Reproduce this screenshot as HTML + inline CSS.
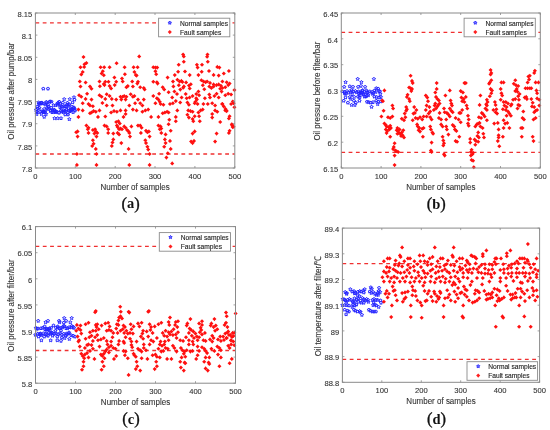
<!DOCTYPE html>
<html><head><meta charset="utf-8"><title>Figure</title>
<style>
html,body{margin:0;padding:0;background:#fff;width:550px;height:430px;overflow:hidden}
svg{display:block;filter:blur(0.3px)}
.tk{font-family:"Liberation Sans",Arial,sans-serif;font-size:7.6px;fill:#333;stroke:#333;stroke-width:0.1px}
.lb{font-family:"Liberation Sans",Arial,sans-serif;font-size:8px;fill:#333;stroke:#333;stroke-width:0.1px}
.lg{font-family:"Liberation Sans",Arial,sans-serif;font-size:6.65px;fill:#222;stroke:#222;stroke-width:0.12px}
.par{font-size:16.5px;font-weight:normal;stroke:#111;stroke-width:0.35px}
.cap{font-family:"Liberation Serif","DejaVu Serif",serif;font-size:14.5px;font-weight:bold;fill:#111}
</style></head><body>
<svg width="550" height="430" viewBox="0 0 550 430">
<defs><path id="rm" d="M0 -2.05L1.02 -1.02L2.05 0L1.02 1.02L0 2.05L-1.02 1.02L-2.05 0L-1.02 -1.02Z"/><polygon id="bm" points="0.00,-1.75 0.57,-0.78 1.66,-0.54 0.92,0.30 1.03,1.42 0.00,0.96 -1.03,1.42 -0.92,0.30 -1.66,-0.54 -0.57,-0.78"/></defs>
<rect width="550" height="430" fill="#fff"/>
<g><line x1="35.4" y1="22.8" x2="234.8" y2="22.8" stroke="#f03030" stroke-width="1.3" stroke-dasharray="3.8 3.5"/>
<line x1="35.4" y1="154.0" x2="234.8" y2="154.0" stroke="#f03030" stroke-width="1.3" stroke-dasharray="3.8 3.5"/>
<g fill="none" stroke="#2424ff" stroke-width="1.0"><use href="#bm" x="43.3" y="88.7"/>
<use href="#bm" x="48.0" y="88.7"/>
<use href="#bm" x="64.2" y="99.2"/>
<use href="#bm" x="69.8" y="99.2"/>
<use href="#bm" x="74.0" y="97.3"/>
<use href="#bm" x="74.5" y="99.7"/>
<use href="#bm" x="72.6" y="102.5"/>
<use href="#bm" x="44.2" y="116.9"/>
<use href="#bm" x="54.5" y="118.3"/>
<use href="#bm" x="57.7" y="118.3"/>
<use href="#bm" x="61.0" y="118.3"/>
<use href="#bm" x="69.3" y="119.2"/>
<use href="#bm" x="36.8" y="114.1"/>
<use href="#bm" x="41.4" y="114.1"/>
<use href="#bm" x="46.1" y="114.1"/>
<use href="#bm" x="65.2" y="114.6"/>
<use href="#bm" x="68.0" y="114.6"/>
<use href="#bm" x="36.1" y="109.8"/>
<use href="#bm" x="36.6" y="112.1"/>
<use href="#bm" x="37.1" y="111.9"/>
<use href="#bm" x="37.2" y="106.6"/>
<use href="#bm" x="38.1" y="108.7"/>
<use href="#bm" x="38.6" y="102.5"/>
<use href="#bm" x="38.9" y="104.1"/>
<use href="#bm" x="39.4" y="107.9"/>
<use href="#bm" x="39.6" y="103.7"/>
<use href="#bm" x="40.2" y="111.8"/>
<use href="#bm" x="40.9" y="103.0"/>
<use href="#bm" x="41.4" y="102.8"/>
<use href="#bm" x="41.8" y="102.7"/>
<use href="#bm" x="42.0" y="111.3"/>
<use href="#bm" x="42.6" y="103.7"/>
<use href="#bm" x="43.4" y="111.3"/>
<use href="#bm" x="43.5" y="112.3"/>
<use href="#bm" x="44.1" y="109.1"/>
<use href="#bm" x="44.5" y="112.1"/>
<use href="#bm" x="45.2" y="112.4"/>
<use href="#bm" x="45.7" y="104.7"/>
<use href="#bm" x="46.0" y="103.1"/>
<use href="#bm" x="46.3" y="102.0"/>
<use href="#bm" x="46.9" y="108.2"/>
<use href="#bm" x="47.2" y="109.1"/>
<use href="#bm" x="47.9" y="104.8"/>
<use href="#bm" x="48.6" y="106.8"/>
<use href="#bm" x="48.8" y="106.8"/>
<use href="#bm" x="49.5" y="101.9"/>
<use href="#bm" x="50.1" y="101.5"/>
<use href="#bm" x="50.4" y="111.0"/>
<use href="#bm" x="50.6" y="110.3"/>
<use href="#bm" x="51.2" y="107.9"/>
<use href="#bm" x="51.5" y="101.7"/>
<use href="#bm" x="52.1" y="112.3"/>
<use href="#bm" x="52.5" y="110.0"/>
<use href="#bm" x="53.4" y="112.1"/>
<use href="#bm" x="53.6" y="105.3"/>
<use href="#bm" x="54.1" y="110.2"/>
<use href="#bm" x="54.4" y="109.9"/>
<use href="#bm" x="55.2" y="111.2"/>
<use href="#bm" x="55.3" y="112.2"/>
<use href="#bm" x="55.8" y="105.2"/>
<use href="#bm" x="56.5" y="111.8"/>
<use href="#bm" x="56.9" y="111.9"/>
<use href="#bm" x="57.5" y="104.8"/>
<use href="#bm" x="57.8" y="103.3"/>
<use href="#bm" x="58.2" y="102.9"/>
<use href="#bm" x="59.0" y="112.8"/>
<use href="#bm" x="59.2" y="101.8"/>
<use href="#bm" x="60.1" y="107.4"/>
<use href="#bm" x="60.3" y="104.0"/>
<use href="#bm" x="60.8" y="110.8"/>
<use href="#bm" x="61.2" y="106.1"/>
<use href="#bm" x="61.5" y="111.8"/>
<use href="#bm" x="62.0" y="106.9"/>
<use href="#bm" x="62.9" y="102.7"/>
<use href="#bm" x="63.3" y="112.2"/>
<use href="#bm" x="63.7" y="110.3"/>
<use href="#bm" x="63.9" y="106.2"/>
<use href="#bm" x="64.4" y="111.0"/>
<use href="#bm" x="65.0" y="106.5"/>
<use href="#bm" x="65.8" y="111.1"/>
<use href="#bm" x="66.2" y="106.5"/>
<use href="#bm" x="66.5" y="109.7"/>
<use href="#bm" x="67.0" y="104.6"/>
<use href="#bm" x="67.4" y="102.9"/>
<use href="#bm" x="67.9" y="112.7"/>
<use href="#bm" x="68.6" y="108.5"/>
<use href="#bm" x="68.9" y="105.1"/>
<use href="#bm" x="69.2" y="104.4"/>
<use href="#bm" x="70.0" y="111.3"/>
<use href="#bm" x="70.2" y="110.3"/>
<use href="#bm" x="70.9" y="109.3"/>
<use href="#bm" x="71.3" y="110.0"/>
<use href="#bm" x="71.7" y="109.4"/>
<use href="#bm" x="72.1" y="106.8"/>
<use href="#bm" x="72.8" y="109.2"/>
<use href="#bm" x="73.1" y="112.2"/>
<use href="#bm" x="73.7" y="107.9"/>
<use href="#bm" x="73.9" y="107.5"/>
<use href="#bm" x="74.5" y="109.0"/>
<use href="#bm" x="75.0" y="110.7"/></g>
<g fill="#ff1010" stroke="none"><use href="#rm" x="234.4" y="90.1"/>
<use href="#rm" x="233.6" y="103.2"/>
<use href="#rm" x="234.4" y="107.2"/>
<use href="#rm" x="232.8" y="101.5"/>
<use href="#rm" x="232.0" y="125.1"/>
<use href="#rm" x="233.6" y="126.8"/>
<use href="#rm" x="222.2" y="104.0"/>
<use href="#rm" x="223.8" y="106.4"/>
<use href="#rm" x="225.5" y="108.9"/>
<use href="#rm" x="226.3" y="110.5"/>
<use href="#rm" x="83.5" y="57.0"/>
<use href="#rm" x="139.2" y="56.4"/>
<use href="#rm" x="116.6" y="63.3"/>
<use href="#rm" x="86.4" y="63.0"/>
<use href="#rm" x="84.5" y="64.3"/>
<use href="#rm" x="80.5" y="67.3"/>
<use href="#rm" x="84.2" y="66.9"/>
<use href="#rm" x="100.6" y="67.3"/>
<use href="#rm" x="104.2" y="67.3"/>
<use href="#rm" x="109.6" y="67.3"/>
<use href="#rm" x="124.6" y="67.3"/>
<use href="#rm" x="133.6" y="67.3"/>
<use href="#rm" x="137.6" y="67.3"/>
<use href="#rm" x="153.3" y="67.3"/>
<use href="#rm" x="102.8" y="71.3"/>
<use href="#rm" x="101.6" y="73.5"/>
<use href="#rm" x="103.8" y="75.3"/>
<use href="#rm" x="82.7" y="72.0"/>
<use href="#rm" x="81.3" y="74.5"/>
<use href="#rm" x="124.9" y="74.2"/>
<use href="#rm" x="134.4" y="72.0"/>
<use href="#rm" x="135.8" y="74.9"/>
<use href="#rm" x="136.6" y="75.6"/>
<use href="#rm" x="114.4" y="77.5"/>
<use href="#rm" x="122.0" y="78.5"/>
<use href="#rm" x="122.7" y="81.5"/>
<use href="#rm" x="79.8" y="81.5"/>
<use href="#rm" x="85.6" y="82.5"/>
<use href="#rm" x="99.5" y="81.5"/>
<use href="#rm" x="105.3" y="81.8"/>
<use href="#rm" x="108.5" y="81.8"/>
<use href="#rm" x="116.2" y="81.8"/>
<use href="#rm" x="132.2" y="81.5"/>
<use href="#rm" x="138.0" y="81.8"/>
<use href="#rm" x="153.3" y="81.8"/>
<use href="#rm" x="80.5" y="86.5"/>
<use href="#rm" x="90.0" y="86.5"/>
<use href="#rm" x="91.5" y="88.7"/>
<use href="#rm" x="99.9" y="86.2"/>
<use href="#rm" x="103.8" y="84.1"/>
<use href="#rm" x="104.5" y="85.1"/>
<use href="#rm" x="109.6" y="86.1"/>
<use href="#rm" x="111.1" y="88.4"/>
<use href="#rm" x="114.7" y="85.1"/>
<use href="#rm" x="126.4" y="87.3"/>
<use href="#rm" x="127.8" y="86.1"/>
<use href="#rm" x="132.9" y="86.5"/>
<use href="#rm" x="137.3" y="83.6"/>
<use href="#rm" x="140.2" y="87.3"/>
<use href="#rm" x="143.8" y="88.0"/>
<use href="#rm" x="144.6" y="89.5"/>
<use href="#rm" x="79.1" y="95.3"/>
<use href="#rm" x="81.3" y="96.7"/>
<use href="#rm" x="87.1" y="93.8"/>
<use href="#rm" x="85.6" y="98.9"/>
<use href="#rm" x="91.5" y="99.6"/>
<use href="#rm" x="99.5" y="95.3"/>
<use href="#rm" x="101.6" y="96.7"/>
<use href="#rm" x="106.7" y="94.2"/>
<use href="#rm" x="105.3" y="98.9"/>
<use href="#rm" x="109.6" y="96.0"/>
<use href="#rm" x="111.8" y="98.9"/>
<use href="#rm" x="116.2" y="99.6"/>
<use href="#rm" x="120.5" y="96.7"/>
<use href="#rm" x="122.7" y="96.7"/>
<use href="#rm" x="124.2" y="96.0"/>
<use href="#rm" x="126.4" y="96.7"/>
<use href="#rm" x="121.3" y="99.6"/>
<use href="#rm" x="125.6" y="99.6"/>
<use href="#rm" x="130.7" y="94.2"/>
<use href="#rm" x="132.9" y="96.7"/>
<use href="#rm" x="134.4" y="96.0"/>
<use href="#rm" x="138.0" y="99.6"/>
<use href="#rm" x="143.8" y="99.6"/>
<use href="#rm" x="153.3" y="96.0"/>
<use href="#rm" x="82.7" y="103.3"/>
<use href="#rm" x="88.5" y="104.0"/>
<use href="#rm" x="90.0" y="105.5"/>
<use href="#rm" x="92.9" y="106.2"/>
<use href="#rm" x="102.4" y="103.0"/>
<use href="#rm" x="106.7" y="105.5"/>
<use href="#rm" x="112.5" y="105.5"/>
<use href="#rm" x="129.3" y="105.5"/>
<use href="#rm" x="135.1" y="103.3"/>
<use href="#rm" x="140.2" y="103.3"/>
<use href="#rm" x="142.4" y="105.5"/>
<use href="#rm" x="183.1" y="54.5"/>
<use href="#rm" x="183.8" y="56.4"/>
<use href="#rm" x="183.8" y="61.8"/>
<use href="#rm" x="207.5" y="54.5"/>
<use href="#rm" x="207.1" y="56.7"/>
<use href="#rm" x="207.8" y="61.8"/>
<use href="#rm" x="178.7" y="64.7"/>
<use href="#rm" x="196.9" y="64.7"/>
<use href="#rm" x="202.0" y="64.7"/>
<use href="#rm" x="197.6" y="67.6"/>
<use href="#rm" x="155.4" y="67.6"/>
<use href="#rm" x="157.2" y="67.6"/>
<use href="#rm" x="217.3" y="66.9"/>
<use href="#rm" x="219.4" y="67.6"/>
<use href="#rm" x="209.0" y="71.0"/>
<use href="#rm" x="228.9" y="71.0"/>
<use href="#rm" x="155.4" y="71.3"/>
<use href="#rm" x="156.2" y="74.2"/>
<use href="#rm" x="213.6" y="74.9"/>
<use href="#rm" x="218.7" y="75.6"/>
<use href="#rm" x="223.8" y="73.5"/>
<use href="#rm" x="156.9" y="82.2"/>
<use href="#rm" x="157.6" y="83.6"/>
<use href="#rm" x="205.6" y="82.2"/>
<use href="#rm" x="207.1" y="81.5"/>
<use href="#rm" x="210.0" y="82.9"/>
<use href="#rm" x="213.6" y="84.4"/>
<use href="#rm" x="216.6" y="85.1"/>
<use href="#rm" x="218.7" y="84.4"/>
<use href="#rm" x="220.9" y="85.8"/>
<use href="#rm" x="222.4" y="81.5"/>
<use href="#rm" x="226.7" y="82.2"/>
<use href="#rm" x="228.2" y="85.1"/>
<use href="#rm" x="229.6" y="83.6"/>
<use href="#rm" x="162.7" y="87.3"/>
<use href="#rm" x="164.2" y="89.5"/>
<use href="#rm" x="209.3" y="86.5"/>
<use href="#rm" x="211.4" y="88.0"/>
<use href="#rm" x="213.6" y="86.5"/>
<use href="#rm" x="220.2" y="88.7"/>
<use href="#rm" x="222.4" y="88.0"/>
<use href="#rm" x="225.3" y="87.3"/>
<use href="#rm" x="159.1" y="93.8"/>
<use href="#rm" x="156.9" y="98.2"/>
<use href="#rm" x="158.4" y="99.6"/>
<use href="#rm" x="159.8" y="101.8"/>
<use href="#rm" x="172.2" y="97.5"/>
<use href="#rm" x="181.6" y="97.5"/>
<use href="#rm" x="186.7" y="98.2"/>
<use href="#rm" x="189.6" y="97.5"/>
<use href="#rm" x="192.6" y="96.0"/>
<use href="#rm" x="199.1" y="95.3"/>
<use href="#rm" x="196.2" y="98.2"/>
<use href="#rm" x="196.9" y="99.6"/>
<use href="#rm" x="195.4" y="101.8"/>
<use href="#rm" x="204.9" y="98.2"/>
<use href="#rm" x="209.3" y="94.5"/>
<use href="#rm" x="210.0" y="97.5"/>
<use href="#rm" x="214.4" y="96.0"/>
<use href="#rm" x="216.6" y="93.8"/>
<use href="#rm" x="218.7" y="97.5"/>
<use href="#rm" x="221.6" y="91.6"/>
<use href="#rm" x="225.3" y="95.3"/>
<use href="#rm" x="228.2" y="93.8"/>
<use href="#rm" x="231.1" y="94.5"/>
<use href="#rm" x="155.4" y="103.3"/>
<use href="#rm" x="160.6" y="104.0"/>
<use href="#rm" x="163.4" y="104.7"/>
<use href="#rm" x="170.0" y="104.0"/>
<use href="#rm" x="172.9" y="103.3"/>
<use href="#rm" x="175.8" y="101.1"/>
<use href="#rm" x="180.2" y="102.5"/>
<use href="#rm" x="187.4" y="102.5"/>
<use href="#rm" x="188.9" y="104.7"/>
<use href="#rm" x="194.7" y="103.3"/>
<use href="#rm" x="197.6" y="104.0"/>
<use href="#rm" x="203.4" y="104.0"/>
<use href="#rm" x="207.8" y="104.0"/>
<use href="#rm" x="212.2" y="103.3"/>
<use href="#rm" x="215.1" y="105.5"/>
<use href="#rm" x="222.4" y="104.0"/>
<use href="#rm" x="231.1" y="104.0"/>
<use href="#rm" x="78.4" y="109.6"/>
<use href="#rm" x="82.7" y="110.4"/>
<use href="#rm" x="90.0" y="113.3"/>
<use href="#rm" x="91.5" y="112.5"/>
<use href="#rm" x="93.6" y="111.1"/>
<use href="#rm" x="95.8" y="111.8"/>
<use href="#rm" x="99.5" y="110.4"/>
<use href="#rm" x="111.1" y="112.5"/>
<use href="#rm" x="114.0" y="111.1"/>
<use href="#rm" x="116.9" y="111.8"/>
<use href="#rm" x="120.5" y="110.4"/>
<use href="#rm" x="125.6" y="110.4"/>
<use href="#rm" x="132.9" y="109.6"/>
<use href="#rm" x="136.6" y="110.4"/>
<use href="#rm" x="142.4" y="111.8"/>
<use href="#rm" x="145.3" y="110.4"/>
<use href="#rm" x="148.2" y="109.6"/>
<use href="#rm" x="78.4" y="116.9"/>
<use href="#rm" x="98.0" y="116.9"/>
<use href="#rm" x="105.3" y="116.5"/>
<use href="#rm" x="123.5" y="116.9"/>
<use href="#rm" x="125.6" y="114.0"/>
<use href="#rm" x="151.1" y="116.9"/>
<use href="#rm" x="86.4" y="125.6"/>
<use href="#rm" x="88.5" y="127.8"/>
<use href="#rm" x="87.8" y="129.3"/>
<use href="#rm" x="76.2" y="132.2"/>
<use href="#rm" x="77.6" y="131.4"/>
<use href="#rm" x="77.6" y="136.6"/>
<use href="#rm" x="88.5" y="132.9"/>
<use href="#rm" x="92.9" y="130.0"/>
<use href="#rm" x="95.1" y="129.3"/>
<use href="#rm" x="95.8" y="131.4"/>
<use href="#rm" x="94.4" y="133.6"/>
<use href="#rm" x="97.3" y="132.9"/>
<use href="#rm" x="96.5" y="136.6"/>
<use href="#rm" x="104.5" y="125.6"/>
<use href="#rm" x="106.7" y="126.4"/>
<use href="#rm" x="108.2" y="129.3"/>
<use href="#rm" x="108.2" y="132.9"/>
<use href="#rm" x="113.3" y="133.6"/>
<use href="#rm" x="113.3" y="139.4"/>
<use href="#rm" x="112.5" y="142.4"/>
<use href="#rm" x="111.8" y="146.0"/>
<use href="#rm" x="116.2" y="122.0"/>
<use href="#rm" x="118.4" y="121.3"/>
<use href="#rm" x="119.8" y="123.5"/>
<use href="#rm" x="116.9" y="125.6"/>
<use href="#rm" x="117.6" y="127.1"/>
<use href="#rm" x="119.1" y="129.3"/>
<use href="#rm" x="120.5" y="128.6"/>
<use href="#rm" x="117.6" y="132.9"/>
<use href="#rm" x="119.1" y="134.4"/>
<use href="#rm" x="122.0" y="129.3"/>
<use href="#rm" x="124.2" y="126.4"/>
<use href="#rm" x="125.6" y="127.8"/>
<use href="#rm" x="127.1" y="130.0"/>
<use href="#rm" x="128.6" y="131.4"/>
<use href="#rm" x="129.3" y="132.9"/>
<use href="#rm" x="130.0" y="136.6"/>
<use href="#rm" x="131.4" y="126.4"/>
<use href="#rm" x="138.0" y="125.6"/>
<use href="#rm" x="140.2" y="125.6"/>
<use href="#rm" x="141.6" y="127.8"/>
<use href="#rm" x="140.9" y="132.9"/>
<use href="#rm" x="146.0" y="130.7"/>
<use href="#rm" x="147.4" y="132.2"/>
<use href="#rm" x="148.9" y="131.4"/>
<use href="#rm" x="149.6" y="136.6"/>
<use href="#rm" x="92.9" y="140.2"/>
<use href="#rm" x="93.6" y="143.8"/>
<use href="#rm" x="92.2" y="146.0"/>
<use href="#rm" x="95.8" y="148.9"/>
<use href="#rm" x="121.3" y="143.1"/>
<use href="#rm" x="128.6" y="148.9"/>
<use href="#rm" x="145.3" y="140.2"/>
<use href="#rm" x="146.0" y="143.1"/>
<use href="#rm" x="147.4" y="146.7"/>
<use href="#rm" x="148.2" y="149.6"/>
<use href="#rm" x="76.9" y="154.0"/>
<use href="#rm" x="96.5" y="154.0"/>
<use href="#rm" x="149.6" y="154.0"/>
<use href="#rm" x="76.9" y="164.9"/>
<use href="#rm" x="96.5" y="164.9"/>
<use href="#rm" x="129.3" y="164.9"/>
<use href="#rm" x="149.6" y="164.9"/>
<use href="#rm" x="162.7" y="113.3"/>
<use href="#rm" x="164.9" y="112.5"/>
<use href="#rm" x="167.1" y="111.8"/>
<use href="#rm" x="168.6" y="112.5"/>
<use href="#rm" x="158.4" y="116.9"/>
<use href="#rm" x="177.3" y="110.4"/>
<use href="#rm" x="188.2" y="110.4"/>
<use href="#rm" x="190.4" y="111.1"/>
<use href="#rm" x="192.6" y="111.8"/>
<use href="#rm" x="187.4" y="114.7"/>
<use href="#rm" x="188.9" y="117.6"/>
<use href="#rm" x="192.6" y="119.1"/>
<use href="#rm" x="193.3" y="121.3"/>
<use href="#rm" x="194.7" y="116.2"/>
<use href="#rm" x="198.4" y="112.5"/>
<use href="#rm" x="200.6" y="110.4"/>
<use href="#rm" x="202.7" y="109.6"/>
<use href="#rm" x="199.1" y="116.2"/>
<use href="#rm" x="199.8" y="121.3"/>
<use href="#rm" x="212.2" y="114.0"/>
<use href="#rm" x="212.2" y="117.6"/>
<use href="#rm" x="215.1" y="110.4"/>
<use href="#rm" x="217.3" y="111.8"/>
<use href="#rm" x="225.3" y="110.4"/>
<use href="#rm" x="226.7" y="111.1"/>
<use href="#rm" x="175.8" y="116.9"/>
<use href="#rm" x="175.8" y="121.3"/>
<use href="#rm" x="169.3" y="119.8"/>
<use href="#rm" x="168.6" y="124.2"/>
<use href="#rm" x="158.4" y="125.6"/>
<use href="#rm" x="160.6" y="126.4"/>
<use href="#rm" x="161.3" y="128.6"/>
<use href="#rm" x="159.8" y="129.3"/>
<use href="#rm" x="161.3" y="132.9"/>
<use href="#rm" x="165.6" y="134.4"/>
<use href="#rm" x="170.7" y="130.7"/>
<use href="#rm" x="220.2" y="122.0"/>
<use href="#rm" x="229.6" y="116.2"/>
<use href="#rm" x="228.9" y="118.4"/>
<use href="#rm" x="231.8" y="124.2"/>
<use href="#rm" x="232.6" y="127.1"/>
<use href="#rm" x="192.6" y="133.6"/>
<use href="#rm" x="194.7" y="131.4"/>
<use href="#rm" x="216.6" y="133.6"/>
<use href="#rm" x="228.9" y="132.9"/>
<use href="#rm" x="229.6" y="130.7"/>
<use href="#rm" x="164.9" y="139.4"/>
<use href="#rm" x="165.6" y="143.1"/>
<use href="#rm" x="164.2" y="146.7"/>
<use href="#rm" x="170.0" y="140.9"/>
<use href="#rm" x="170.7" y="148.9"/>
<use href="#rm" x="191.1" y="141.6"/>
<use href="#rm" x="192.6" y="143.1"/>
<use href="#rm" x="194.0" y="140.9"/>
<use href="#rm" x="215.1" y="141.6"/>
<use href="#rm" x="167.8" y="153.3"/>
<use href="#rm" x="166.4" y="157.6"/>
<use href="#rm" x="172.2" y="163.4"/>
<use href="#rm" x="178.1" y="71.8"/>
<use href="#rm" x="185.0" y="71.5"/>
<use href="#rm" x="201.7" y="71.8"/>
<use href="#rm" x="174.8" y="75.1"/>
<use href="#rm" x="189.7" y="75.1"/>
<use href="#rm" x="198.4" y="75.1"/>
<use href="#rm" x="167.6" y="77.6"/>
<use href="#rm" x="173.0" y="81.6"/>
<use href="#rm" x="177.4" y="79.8"/>
<use href="#rm" x="179.6" y="81.6"/>
<use href="#rm" x="181.4" y="80.9"/>
<use href="#rm" x="182.4" y="82.0"/>
<use href="#rm" x="186.1" y="82.4"/>
<use href="#rm" x="178.8" y="85.3"/>
<use href="#rm" x="183.9" y="86.4"/>
<use href="#rm" x="183.2" y="87.8"/>
<use href="#rm" x="189.0" y="85.6"/>
<use href="#rm" x="190.8" y="84.2"/>
<use href="#rm" x="189.7" y="88.5"/>
<use href="#rm" x="173.4" y="86.4"/>
<use href="#rm" x="180.3" y="89.6"/>
<use href="#rm" x="168.6" y="92.2"/>
<use href="#rm" x="174.4" y="91.5"/>
<use href="#rm" x="177.0" y="94.0"/>
<use href="#rm" x="185.7" y="94.0"/>
<use href="#rm" x="198.4" y="91.5"/>
<use href="#rm" x="196.3" y="94.0"/>
<use href="#rm" x="201.4" y="80.2"/>
<use href="#rm" x="203.6" y="81.6"/>
<use href="#rm" x="202.8" y="85.3"/>
<use href="#rm" x="204.3" y="89.3"/></g>
<rect x="35.4" y="13.0" width="199.4" height="155.0" fill="none" stroke="#8a8a8a" stroke-width="1"/>
<text transform="translate(32.2,171.70) scale(1,1.0)" text-anchor="end" class="tk">7.8</text>
<text transform="translate(32.2,149.56) scale(1,1.0)" text-anchor="end" class="tk">7.85</text>
<text transform="translate(32.2,127.41) scale(1,1.0)" text-anchor="end" class="tk">7.9</text>
<text transform="translate(32.2,105.27) scale(1,1.0)" text-anchor="end" class="tk">7.95</text>
<text transform="translate(32.2,83.13) scale(1,1.0)" text-anchor="end" class="tk">8</text>
<text transform="translate(32.2,60.99) scale(1,1.0)" text-anchor="end" class="tk">8.05</text>
<text transform="translate(32.2,38.84) scale(1,1.0)" text-anchor="end" class="tk">8.1</text>
<text transform="translate(32.2,16.70) scale(1,1.0)" text-anchor="end" class="tk">8.15</text>
<text transform="translate(35.4,179.00) scale(1,1.0)" text-anchor="middle" class="tk">0</text>
<text transform="translate(75.3,179.00) scale(1,1.0)" text-anchor="middle" class="tk">100</text>
<text transform="translate(115.2,179.00) scale(1,1.0)" text-anchor="middle" class="tk">200</text>
<text transform="translate(155.0,179.00) scale(1,1.0)" text-anchor="middle" class="tk">300</text>
<text transform="translate(194.9,179.00) scale(1,1.0)" text-anchor="middle" class="tk">400</text>
<text transform="translate(234.8,179.00) scale(1,1.0)" text-anchor="middle" class="tk">500</text>
<path d="M35.4 168.0h2M234.8 168.0h-2M35.4 145.9h2M234.8 145.9h-2M35.4 123.7h2M234.8 123.7h-2M35.4 101.6h2M234.8 101.6h-2M35.4 79.4h2M234.8 79.4h-2M35.4 57.3h2M234.8 57.3h-2M35.4 35.1h2M234.8 35.1h-2M35.4 13.0h2M234.8 13.0h-2M35.4 168.0v-2M35.4 13.0v2M75.3 168.0v-2M75.3 13.0v2M115.2 168.0v-2M115.2 13.0v2M155.0 168.0v-2M155.0 13.0v2M194.9 168.0v-2M194.9 13.0v2M234.8 168.0v-2M234.8 13.0v2" stroke="#8a8a8a" stroke-width="0.8" fill="none"/>
<text transform="translate(135.1,190.10) scale(1,1.15)" text-anchor="middle" class="lb">Number of samples</text>
<text transform="translate(14.0,91.1) rotate(-90) scale(1,1.15)" text-anchor="middle" class="lb">Oil pressure after pump/bar</text>
<rect x="158.6" y="18.2" width="71.2" height="18.6" fill="#fff" stroke="#8a8a8a" stroke-width="0.9"/>
<use href="#bm" x="169.8" y="22.8" fill="#8080ff" stroke="#2626ff" stroke-width="0.9"/>
<use href="#rm" x="169.8" y="32.1" fill="#ff2020"/>
<text x="180.0" y="25.7" class="lg">Normal samples</text>
<text x="180.0" y="34.7" class="lg">Fault samples</text>
<text x="130.6" y="208.1" text-anchor="middle" class="cap"><tspan class="par" dy="0.4">(</tspan><tspan dy="-0.4">a</tspan><tspan class="par" dy="0.4">)</tspan></text></g>
<g><line x1="341.3" y1="32.3" x2="540.3" y2="32.3" stroke="#f03030" stroke-width="1.3" stroke-dasharray="3.8 3.5"/>
<line x1="341.3" y1="152.3" x2="540.3" y2="152.3" stroke="#f03030" stroke-width="1.3" stroke-dasharray="3.8 3.5"/>
<g fill="none" stroke="#2424ff" stroke-width="1.0"><use href="#bm" x="357.7" y="79.0"/>
<use href="#bm" x="373.9" y="79.0"/>
<use href="#bm" x="345.6" y="82.2"/>
<use href="#bm" x="361.4" y="82.2"/>
<use href="#bm" x="360.9" y="86.0"/>
<use href="#bm" x="344.2" y="86.9"/>
<use href="#bm" x="349.8" y="86.4"/>
<use href="#bm" x="353.0" y="86.9"/>
<use href="#bm" x="358.1" y="86.9"/>
<use href="#bm" x="365.1" y="86.9"/>
<use href="#bm" x="376.3" y="88.3"/>
<use href="#bm" x="378.1" y="88.7"/>
<use href="#bm" x="342.3" y="91.5"/>
<use href="#bm" x="344.6" y="92.0"/>
<use href="#bm" x="347.0" y="91.1"/>
<use href="#bm" x="348.4" y="92.9"/>
<use href="#bm" x="350.7" y="92.0"/>
<use href="#bm" x="353.0" y="91.5"/>
<use href="#bm" x="355.4" y="91.1"/>
<use href="#bm" x="356.7" y="92.5"/>
<use href="#bm" x="358.6" y="91.5"/>
<use href="#bm" x="360.0" y="92.5"/>
<use href="#bm" x="362.3" y="91.1"/>
<use href="#bm" x="364.2" y="92.0"/>
<use href="#bm" x="366.5" y="90.6"/>
<use href="#bm" x="367.9" y="92.5"/>
<use href="#bm" x="369.8" y="91.5"/>
<use href="#bm" x="372.1" y="92.0"/>
<use href="#bm" x="374.4" y="90.6"/>
<use href="#bm" x="375.8" y="92.0"/>
<use href="#bm" x="379.1" y="91.1"/>
<use href="#bm" x="380.0" y="91.5"/>
<use href="#bm" x="345.6" y="93.9"/>
<use href="#bm" x="352.1" y="94.3"/>
<use href="#bm" x="363.3" y="94.3"/>
<use href="#bm" x="372.6" y="93.9"/>
<use href="#bm" x="349.8" y="97.1"/>
<use href="#bm" x="358.1" y="96.7"/>
<use href="#bm" x="360.0" y="95.3"/>
<use href="#bm" x="364.6" y="96.7"/>
<use href="#bm" x="367.0" y="95.7"/>
<use href="#bm" x="368.4" y="95.3"/>
<use href="#bm" x="374.4" y="96.7"/>
<use href="#bm" x="376.7" y="97.1"/>
<use href="#bm" x="379.1" y="97.6"/>
<use href="#bm" x="380.9" y="97.1"/>
<use href="#bm" x="343.7" y="100.8"/>
<use href="#bm" x="347.9" y="102.7"/>
<use href="#bm" x="350.7" y="99.0"/>
<use href="#bm" x="353.9" y="100.8"/>
<use href="#bm" x="355.8" y="102.7"/>
<use href="#bm" x="359.5" y="100.8"/>
<use href="#bm" x="367.0" y="101.8"/>
<use href="#bm" x="368.8" y="102.2"/>
<use href="#bm" x="370.7" y="102.7"/>
<use href="#bm" x="373.0" y="102.2"/>
<use href="#bm" x="376.3" y="100.8"/>
<use href="#bm" x="378.1" y="101.8"/>
<use href="#bm" x="377.7" y="104.1"/>
<use href="#bm" x="351.6" y="105.0"/>
<use href="#bm" x="354.9" y="105.0"/>
<use href="#bm" x="371.6" y="106.9"/>
<use href="#bm" x="363.7" y="94.0"/>
<use href="#bm" x="361.7" y="92.6"/>
<use href="#bm" x="361.9" y="92.8"/>
<use href="#bm" x="345.5" y="97.5"/>
<use href="#bm" x="373.5" y="93.0"/>
<use href="#bm" x="380.3" y="94.2"/>
<use href="#bm" x="365.9" y="96.5"/>
<use href="#bm" x="362.5" y="90.3"/>
<use href="#bm" x="351.3" y="90.2"/>
<use href="#bm" x="359.1" y="93.6"/>
<use href="#bm" x="366.9" y="92.2"/>
<use href="#bm" x="359.7" y="97.4"/>
<use href="#bm" x="380.8" y="101.5"/>
<use href="#bm" x="354.2" y="97.0"/>
<use href="#bm" x="344.6" y="93.3"/></g>
<g fill="#ff1010" stroke="none"><use href="#rm" x="410.6" y="75.8"/>
<use href="#rm" x="412.0" y="80.9"/>
<use href="#rm" x="412.7" y="83.1"/>
<use href="#rm" x="409.1" y="87.5"/>
<use href="#rm" x="410.6" y="88.2"/>
<use href="#rm" x="412.0" y="88.9"/>
<use href="#rm" x="411.3" y="91.1"/>
<use href="#rm" x="407.6" y="94.7"/>
<use href="#rm" x="406.9" y="96.9"/>
<use href="#rm" x="409.1" y="99.1"/>
<use href="#rm" x="409.8" y="101.3"/>
<use href="#rm" x="384.4" y="90.4"/>
<use href="#rm" x="382.2" y="100.5"/>
<use href="#rm" x="382.9" y="101.3"/>
<use href="#rm" x="383.6" y="110.7"/>
<use href="#rm" x="381.4" y="116.5"/>
<use href="#rm" x="388.0" y="117.3"/>
<use href="#rm" x="390.2" y="118.0"/>
<use href="#rm" x="392.4" y="116.5"/>
<use href="#rm" x="392.4" y="105.6"/>
<use href="#rm" x="393.1" y="108.5"/>
<use href="#rm" x="406.2" y="107.1"/>
<use href="#rm" x="406.9" y="109.3"/>
<use href="#rm" x="406.2" y="110.7"/>
<use href="#rm" x="404.7" y="113.6"/>
<use href="#rm" x="405.4" y="117.3"/>
<use href="#rm" x="401.8" y="118.7"/>
<use href="#rm" x="404.0" y="120.2"/>
<use href="#rm" x="414.2" y="107.1"/>
<use href="#rm" x="416.4" y="110.0"/>
<use href="#rm" x="414.9" y="112.9"/>
<use href="#rm" x="413.4" y="113.6"/>
<use href="#rm" x="415.6" y="118.0"/>
<use href="#rm" x="412.7" y="120.2"/>
<use href="#rm" x="436.7" y="83.1"/>
<use href="#rm" x="436.7" y="88.9"/>
<use href="#rm" x="435.3" y="92.5"/>
<use href="#rm" x="436.0" y="96.9"/>
<use href="#rm" x="437.4" y="99.1"/>
<use href="#rm" x="438.9" y="100.5"/>
<use href="#rm" x="435.3" y="103.5"/>
<use href="#rm" x="434.6" y="105.6"/>
<use href="#rm" x="438.2" y="104.9"/>
<use href="#rm" x="439.6" y="103.5"/>
<use href="#rm" x="437.4" y="106.4"/>
<use href="#rm" x="436.0" y="108.5"/>
<use href="#rm" x="433.8" y="110.0"/>
<use href="#rm" x="439.6" y="112.9"/>
<use href="#rm" x="438.9" y="118.0"/>
<use href="#rm" x="441.1" y="119.5"/>
<use href="#rm" x="445.4" y="95.5"/>
<use href="#rm" x="449.8" y="90.4"/>
<use href="#rm" x="450.6" y="100.5"/>
<use href="#rm" x="451.3" y="103.5"/>
<use href="#rm" x="452.0" y="105.6"/>
<use href="#rm" x="449.8" y="108.5"/>
<use href="#rm" x="451.3" y="110.7"/>
<use href="#rm" x="452.7" y="112.2"/>
<use href="#rm" x="448.4" y="114.4"/>
<use href="#rm" x="449.8" y="116.5"/>
<use href="#rm" x="446.2" y="119.5"/>
<use href="#rm" x="425.8" y="95.5"/>
<use href="#rm" x="427.3" y="97.6"/>
<use href="#rm" x="428.0" y="101.3"/>
<use href="#rm" x="426.6" y="105.6"/>
<use href="#rm" x="429.4" y="107.1"/>
<use href="#rm" x="425.8" y="110.0"/>
<use href="#rm" x="430.2" y="111.5"/>
<use href="#rm" x="428.7" y="113.6"/>
<use href="#rm" x="426.6" y="116.5"/>
<use href="#rm" x="423.6" y="116.5"/>
<use href="#rm" x="422.2" y="119.5"/>
<use href="#rm" x="430.2" y="117.3"/>
<use href="#rm" x="431.6" y="119.5"/>
<use href="#rm" x="420.0" y="117.3"/>
<use href="#rm" x="417.8" y="118.7"/>
<use href="#rm" x="444.0" y="108.5"/>
<use href="#rm" x="444.7" y="112.2"/>
<use href="#rm" x="446.9" y="112.9"/>
<use href="#rm" x="455.6" y="118.0"/>
<use href="#rm" x="458.6" y="119.5"/>
<use href="#rm" x="459.3" y="112.9"/>
<use href="#rm" x="384.4" y="123.6"/>
<use href="#rm" x="385.8" y="125.1"/>
<use href="#rm" x="386.6" y="126.5"/>
<use href="#rm" x="388.7" y="127.3"/>
<use href="#rm" x="390.2" y="125.8"/>
<use href="#rm" x="385.8" y="129.4"/>
<use href="#rm" x="387.3" y="130.9"/>
<use href="#rm" x="386.6" y="133.1"/>
<use href="#rm" x="389.4" y="129.4"/>
<use href="#rm" x="390.9" y="128.0"/>
<use href="#rm" x="390.2" y="136.7"/>
<use href="#rm" x="397.4" y="128.0"/>
<use href="#rm" x="396.7" y="130.2"/>
<use href="#rm" x="398.2" y="130.9"/>
<use href="#rm" x="399.6" y="129.4"/>
<use href="#rm" x="398.9" y="133.1"/>
<use href="#rm" x="400.4" y="133.8"/>
<use href="#rm" x="401.8" y="132.4"/>
<use href="#rm" x="403.3" y="130.2"/>
<use href="#rm" x="402.6" y="135.3"/>
<use href="#rm" x="404.0" y="137.4"/>
<use href="#rm" x="397.4" y="133.8"/>
<use href="#rm" x="401.1" y="136.0"/>
<use href="#rm" x="417.1" y="124.4"/>
<use href="#rm" x="417.8" y="126.5"/>
<use href="#rm" x="419.3" y="128.0"/>
<use href="#rm" x="418.6" y="130.2"/>
<use href="#rm" x="420.0" y="131.6"/>
<use href="#rm" x="422.2" y="128.7"/>
<use href="#rm" x="423.6" y="128.0"/>
<use href="#rm" x="422.9" y="136.7"/>
<use href="#rm" x="430.2" y="126.5"/>
<use href="#rm" x="430.9" y="129.4"/>
<use href="#rm" x="432.4" y="132.4"/>
<use href="#rm" x="433.1" y="133.8"/>
<use href="#rm" x="441.1" y="124.4"/>
<use href="#rm" x="442.6" y="126.5"/>
<use href="#rm" x="446.2" y="126.5"/>
<use href="#rm" x="446.9" y="129.4"/>
<use href="#rm" x="448.4" y="134.6"/>
<use href="#rm" x="442.6" y="136.7"/>
<use href="#rm" x="443.3" y="140.4"/>
<use href="#rm" x="444.0" y="143.3"/>
<use href="#rm" x="443.3" y="145.4"/>
<use href="#rm" x="452.7" y="125.1"/>
<use href="#rm" x="454.2" y="126.5"/>
<use href="#rm" x="454.9" y="129.4"/>
<use href="#rm" x="456.4" y="130.9"/>
<use href="#rm" x="455.6" y="141.1"/>
<use href="#rm" x="457.1" y="141.8"/>
<use href="#rm" x="459.3" y="136.7"/>
<use href="#rm" x="394.6" y="143.3"/>
<use href="#rm" x="393.8" y="146.9"/>
<use href="#rm" x="393.1" y="149.1"/>
<use href="#rm" x="395.3" y="150.6"/>
<use href="#rm" x="396.7" y="151.3"/>
<use href="#rm" x="398.2" y="152.0"/>
<use href="#rm" x="394.6" y="155.6"/>
<use href="#rm" x="394.6" y="165.1"/>
<use href="#rm" x="431.6" y="142.6"/>
<use href="#rm" x="430.9" y="150.6"/>
<use href="#rm" x="431.6" y="152.0"/>
<use href="#rm" x="444.0" y="154.2"/>
<use href="#rm" x="444.7" y="155.6"/>
<use href="#rm" x="490.6" y="70.0"/>
<use href="#rm" x="491.3" y="72.9"/>
<use href="#rm" x="490.6" y="74.4"/>
<use href="#rm" x="491.3" y="80.2"/>
<use href="#rm" x="489.8" y="82.4"/>
<use href="#rm" x="489.1" y="83.8"/>
<use href="#rm" x="490.6" y="88.9"/>
<use href="#rm" x="492.0" y="90.4"/>
<use href="#rm" x="491.3" y="93.3"/>
<use href="#rm" x="489.8" y="96.2"/>
<use href="#rm" x="464.4" y="83.1"/>
<use href="#rm" x="465.8" y="83.1"/>
<use href="#rm" x="460.7" y="91.1"/>
<use href="#rm" x="462.9" y="92.5"/>
<use href="#rm" x="461.4" y="97.6"/>
<use href="#rm" x="463.6" y="99.1"/>
<use href="#rm" x="465.8" y="96.9"/>
<use href="#rm" x="462.2" y="101.3"/>
<use href="#rm" x="464.4" y="102.0"/>
<use href="#rm" x="466.6" y="105.6"/>
<use href="#rm" x="467.3" y="108.5"/>
<use href="#rm" x="462.2" y="110.0"/>
<use href="#rm" x="460.7" y="112.9"/>
<use href="#rm" x="468.0" y="115.8"/>
<use href="#rm" x="468.7" y="119.5"/>
<use href="#rm" x="480.4" y="95.5"/>
<use href="#rm" x="479.6" y="104.9"/>
<use href="#rm" x="486.9" y="99.8"/>
<use href="#rm" x="487.6" y="102.0"/>
<use href="#rm" x="486.2" y="104.2"/>
<use href="#rm" x="486.9" y="105.6"/>
<use href="#rm" x="485.4" y="108.5"/>
<use href="#rm" x="486.9" y="110.0"/>
<use href="#rm" x="481.8" y="112.9"/>
<use href="#rm" x="483.3" y="114.4"/>
<use href="#rm" x="484.7" y="116.5"/>
<use href="#rm" x="481.1" y="118.0"/>
<use href="#rm" x="478.9" y="117.3"/>
<use href="#rm" x="486.9" y="120.2"/>
<use href="#rm" x="494.9" y="102.0"/>
<use href="#rm" x="495.6" y="104.9"/>
<use href="#rm" x="496.4" y="109.3"/>
<use href="#rm" x="495.6" y="112.2"/>
<use href="#rm" x="497.1" y="113.6"/>
<use href="#rm" x="493.4" y="110.0"/>
<use href="#rm" x="501.4" y="82.4"/>
<use href="#rm" x="503.6" y="82.4"/>
<use href="#rm" x="500.7" y="88.9"/>
<use href="#rm" x="501.4" y="93.3"/>
<use href="#rm" x="502.2" y="95.5"/>
<use href="#rm" x="500.7" y="99.8"/>
<use href="#rm" x="503.6" y="102.0"/>
<use href="#rm" x="505.8" y="102.0"/>
<use href="#rm" x="508.0" y="103.5"/>
<use href="#rm" x="504.4" y="105.6"/>
<use href="#rm" x="506.6" y="107.1"/>
<use href="#rm" x="502.9" y="109.3"/>
<use href="#rm" x="505.8" y="110.0"/>
<use href="#rm" x="508.0" y="111.5"/>
<use href="#rm" x="509.4" y="113.6"/>
<use href="#rm" x="506.6" y="115.8"/>
<use href="#rm" x="510.9" y="115.8"/>
<use href="#rm" x="503.6" y="120.2"/>
<use href="#rm" x="515.3" y="80.2"/>
<use href="#rm" x="513.8" y="83.8"/>
<use href="#rm" x="516.0" y="85.3"/>
<use href="#rm" x="518.2" y="86.0"/>
<use href="#rm" x="516.7" y="88.9"/>
<use href="#rm" x="515.3" y="91.1"/>
<use href="#rm" x="517.5" y="91.8"/>
<use href="#rm" x="519.6" y="94.0"/>
<use href="#rm" x="518.2" y="96.2"/>
<use href="#rm" x="515.3" y="99.1"/>
<use href="#rm" x="518.9" y="99.8"/>
<use href="#rm" x="518.2" y="104.9"/>
<use href="#rm" x="519.6" y="105.6"/>
<use href="#rm" x="517.5" y="108.5"/>
<use href="#rm" x="513.1" y="99.8"/>
<use href="#rm" x="511.6" y="104.2"/>
<use href="#rm" x="510.9" y="105.6"/>
<use href="#rm" x="523.3" y="111.5"/>
<use href="#rm" x="522.5" y="118.0"/>
<use href="#rm" x="524.0" y="119.5"/>
<use href="#rm" x="528.4" y="76.5"/>
<use href="#rm" x="529.8" y="75.8"/>
<use href="#rm" x="529.1" y="79.5"/>
<use href="#rm" x="527.6" y="82.4"/>
<use href="#rm" x="525.5" y="88.2"/>
<use href="#rm" x="527.6" y="88.2"/>
<use href="#rm" x="529.8" y="88.2"/>
<use href="#rm" x="531.3" y="88.2"/>
<use href="#rm" x="524.7" y="97.6"/>
<use href="#rm" x="526.2" y="96.9"/>
<use href="#rm" x="526.9" y="99.1"/>
<use href="#rm" x="531.3" y="99.1"/>
<use href="#rm" x="532.7" y="102.7"/>
<use href="#rm" x="532.0" y="106.4"/>
<use href="#rm" x="534.2" y="107.1"/>
<use href="#rm" x="535.6" y="110.7"/>
<use href="#rm" x="534.2" y="112.2"/>
<use href="#rm" x="533.5" y="119.5"/>
<use href="#rm" x="535.6" y="118.0"/>
<use href="#rm" x="534.9" y="70.7"/>
<use href="#rm" x="534.2" y="72.9"/>
<use href="#rm" x="535.6" y="82.4"/>
<use href="#rm" x="538.5" y="82.4"/>
<use href="#rm" x="536.4" y="90.4"/>
<use href="#rm" x="537.1" y="93.3"/>
<use href="#rm" x="537.1" y="98.4"/>
<use href="#rm" x="539.3" y="99.8"/>
<use href="#rm" x="539.3" y="105.6"/>
<use href="#rm" x="537.1" y="110.0"/>
<use href="#rm" x="460.7" y="122.2"/>
<use href="#rm" x="468.7" y="125.8"/>
<use href="#rm" x="468.0" y="123.6"/>
<use href="#rm" x="475.3" y="126.5"/>
<use href="#rm" x="476.7" y="124.4"/>
<use href="#rm" x="478.2" y="123.6"/>
<use href="#rm" x="479.6" y="122.9"/>
<use href="#rm" x="480.4" y="126.5"/>
<use href="#rm" x="482.6" y="128.0"/>
<use href="#rm" x="478.2" y="132.4"/>
<use href="#rm" x="477.4" y="136.0"/>
<use href="#rm" x="478.9" y="137.4"/>
<use href="#rm" x="474.6" y="139.6"/>
<use href="#rm" x="470.2" y="138.9"/>
<use href="#rm" x="470.2" y="142.6"/>
<use href="#rm" x="476.0" y="141.1"/>
<use href="#rm" x="478.2" y="141.8"/>
<use href="#rm" x="475.3" y="144.7"/>
<use href="#rm" x="483.3" y="133.8"/>
<use href="#rm" x="484.0" y="137.4"/>
<use href="#rm" x="494.2" y="123.6"/>
<use href="#rm" x="497.8" y="122.9"/>
<use href="#rm" x="498.6" y="129.4"/>
<use href="#rm" x="503.6" y="128.0"/>
<use href="#rm" x="509.4" y="128.0"/>
<use href="#rm" x="505.1" y="123.6"/>
<use href="#rm" x="507.3" y="122.9"/>
<use href="#rm" x="498.6" y="135.3"/>
<use href="#rm" x="498.6" y="137.4"/>
<use href="#rm" x="497.8" y="141.1"/>
<use href="#rm" x="502.9" y="136.7"/>
<use href="#rm" x="499.3" y="146.2"/>
<use href="#rm" x="521.1" y="128.0"/>
<use href="#rm" x="522.5" y="128.0"/>
<use href="#rm" x="521.8" y="136.7"/>
<use href="#rm" x="532.7" y="136.7"/>
<use href="#rm" x="533.5" y="141.1"/>
<use href="#rm" x="471.6" y="149.8"/>
<use href="#rm" x="470.9" y="152.0"/>
<use href="#rm" x="473.1" y="152.7"/>
<use href="#rm" x="472.4" y="154.2"/>
<use href="#rm" x="470.9" y="155.6"/>
<use href="#rm" x="471.6" y="160.0"/>
<use href="#rm" x="473.1" y="160.7"/>
<use href="#rm" x="473.8" y="167.3"/></g>
<rect x="341.3" y="13.0" width="199.0" height="155.0" fill="none" stroke="#8a8a8a" stroke-width="1"/>
<text transform="translate(338.1,171.70) scale(1,1.0)" text-anchor="end" class="tk">6.15</text>
<text transform="translate(338.1,145.87) scale(1,1.0)" text-anchor="end" class="tk">6.2</text>
<text transform="translate(338.1,120.03) scale(1,1.0)" text-anchor="end" class="tk">6.25</text>
<text transform="translate(338.1,94.20) scale(1,1.0)" text-anchor="end" class="tk">6.3</text>
<text transform="translate(338.1,68.37) scale(1,1.0)" text-anchor="end" class="tk">6.35</text>
<text transform="translate(338.1,42.53) scale(1,1.0)" text-anchor="end" class="tk">6.4</text>
<text transform="translate(338.1,16.70) scale(1,1.0)" text-anchor="end" class="tk">6.45</text>
<text transform="translate(341.3,179.00) scale(1,1.0)" text-anchor="middle" class="tk">0</text>
<text transform="translate(381.1,179.00) scale(1,1.0)" text-anchor="middle" class="tk">100</text>
<text transform="translate(420.9,179.00) scale(1,1.0)" text-anchor="middle" class="tk">200</text>
<text transform="translate(460.7,179.00) scale(1,1.0)" text-anchor="middle" class="tk">300</text>
<text transform="translate(500.5,179.00) scale(1,1.0)" text-anchor="middle" class="tk">400</text>
<text transform="translate(540.3,179.00) scale(1,1.0)" text-anchor="middle" class="tk">500</text>
<path d="M341.3 168.0h2M540.3 168.0h-2M341.3 142.2h2M540.3 142.2h-2M341.3 116.3h2M540.3 116.3h-2M341.3 90.5h2M540.3 90.5h-2M341.3 64.7h2M540.3 64.7h-2M341.3 38.8h2M540.3 38.8h-2M341.3 13.0h2M540.3 13.0h-2M341.3 168.0v-2M341.3 13.0v2M381.1 168.0v-2M381.1 13.0v2M420.9 168.0v-2M420.9 13.0v2M460.7 168.0v-2M460.7 13.0v2M500.5 168.0v-2M500.5 13.0v2M540.3 168.0v-2M540.3 13.0v2" stroke="#8a8a8a" stroke-width="0.8" fill="none"/>
<text transform="translate(440.8,190.10) scale(1,1.15)" text-anchor="middle" class="lb">Number of samples</text>
<text transform="translate(319.9,91.1) rotate(-90) scale(1,1.15)" text-anchor="middle" class="lb">Oil pressure before filter/bar</text>
<rect x="464.1" y="18.2" width="71.2" height="18.6" fill="#fff" stroke="#8a8a8a" stroke-width="0.9"/>
<use href="#bm" x="475.3" y="22.8" fill="#8080ff" stroke="#2626ff" stroke-width="0.9"/>
<use href="#rm" x="475.3" y="32.1" fill="#ff2020"/>
<text x="485.5" y="25.7" class="lg">Normal samples</text>
<text x="485.5" y="34.7" class="lg">Fault samples</text>
<text x="436.3" y="208.9" text-anchor="middle" class="cap"><tspan class="par" dy="0.4">(</tspan><tspan dy="-0.4">b</tspan><tspan class="par" dy="0.4">)</tspan></text></g>
<g><line x1="35.5" y1="246.4" x2="235.5" y2="246.4" stroke="#f03030" stroke-width="1.3" stroke-dasharray="3.8 3.5"/>
<line x1="35.5" y1="350.5" x2="235.5" y2="350.5" stroke="#f03030" stroke-width="1.3" stroke-dasharray="3.8 3.5"/>
<g fill="none" stroke="#2424ff" stroke-width="1.0"><use href="#bm" x="38.2" y="320.9"/>
<use href="#bm" x="45.6" y="322.3"/>
<use href="#bm" x="48.0" y="320.9"/>
<use href="#bm" x="59.1" y="320.9"/>
<use href="#bm" x="59.6" y="322.3"/>
<use href="#bm" x="64.2" y="318.1"/>
<use href="#bm" x="66.1" y="320.9"/>
<use href="#bm" x="63.8" y="322.7"/>
<use href="#bm" x="71.7" y="318.1"/>
<use href="#bm" x="70.3" y="322.3"/>
<use href="#bm" x="35.9" y="327.9"/>
<use href="#bm" x="36.8" y="328.8"/>
<use href="#bm" x="41.0" y="328.3"/>
<use href="#bm" x="42.8" y="327.9"/>
<use href="#bm" x="44.7" y="326.5"/>
<use href="#bm" x="47.0" y="328.8"/>
<use href="#bm" x="49.4" y="328.3"/>
<use href="#bm" x="51.2" y="327.9"/>
<use href="#bm" x="53.5" y="325.5"/>
<use href="#bm" x="55.9" y="327.9"/>
<use href="#bm" x="57.7" y="326.5"/>
<use href="#bm" x="59.1" y="328.3"/>
<use href="#bm" x="61.0" y="327.9"/>
<use href="#bm" x="62.4" y="327.4"/>
<use href="#bm" x="63.8" y="326.0"/>
<use href="#bm" x="66.1" y="328.3"/>
<use href="#bm" x="67.5" y="328.3"/>
<use href="#bm" x="71.7" y="326.0"/>
<use href="#bm" x="73.1" y="326.9"/>
<use href="#bm" x="74.0" y="327.9"/>
<use href="#bm" x="35.4" y="334.8"/>
<use href="#bm" x="37.7" y="333.9"/>
<use href="#bm" x="39.6" y="333.9"/>
<use href="#bm" x="41.4" y="335.3"/>
<use href="#bm" x="43.3" y="333.4"/>
<use href="#bm" x="45.2" y="334.4"/>
<use href="#bm" x="47.0" y="334.8"/>
<use href="#bm" x="48.9" y="333.0"/>
<use href="#bm" x="50.7" y="333.9"/>
<use href="#bm" x="52.6" y="333.0"/>
<use href="#bm" x="54.0" y="333.9"/>
<use href="#bm" x="55.9" y="333.4"/>
<use href="#bm" x="58.2" y="334.4"/>
<use href="#bm" x="60.0" y="333.4"/>
<use href="#bm" x="61.9" y="334.8"/>
<use href="#bm" x="63.8" y="333.9"/>
<use href="#bm" x="65.6" y="335.8"/>
<use href="#bm" x="67.0" y="334.8"/>
<use href="#bm" x="68.9" y="333.4"/>
<use href="#bm" x="71.2" y="335.3"/>
<use href="#bm" x="73.1" y="335.8"/>
<use href="#bm" x="74.9" y="336.7"/>
<use href="#bm" x="38.6" y="336.7"/>
<use href="#bm" x="44.2" y="336.7"/>
<use href="#bm" x="48.0" y="335.8"/>
<use href="#bm" x="52.6" y="335.8"/>
<use href="#bm" x="57.3" y="336.7"/>
<use href="#bm" x="61.9" y="337.6"/>
<use href="#bm" x="64.7" y="338.1"/>
<use href="#bm" x="41.4" y="340.4"/>
<use href="#bm" x="50.7" y="340.4"/>
<use href="#bm" x="57.3" y="340.4"/>
<use href="#bm" x="61.0" y="340.9"/>
<use href="#bm" x="69.3" y="339.0"/>
<use href="#bm" x="46.1" y="331.1"/>
<use href="#bm" x="49.8" y="330.6"/>
<use href="#bm" x="55.4" y="331.1"/>
<use href="#bm" x="61.0" y="330.6"/>
<use href="#bm" x="45.2" y="329.3"/>
<use href="#bm" x="69.0" y="327.3"/>
<use href="#bm" x="69.0" y="332.5"/>
<use href="#bm" x="71.5" y="327.6"/>
<use href="#bm" x="51.4" y="332.8"/>
<use href="#bm" x="66.3" y="333.6"/>
<use href="#bm" x="48.8" y="329.2"/>
<use href="#bm" x="40.4" y="333.5"/>
<use href="#bm" x="38.1" y="328.6"/>
<use href="#bm" x="57.7" y="327.5"/>
<use href="#bm" x="64.5" y="326.4"/>
<use href="#bm" x="40.4" y="334.3"/>
<use href="#bm" x="46.4" y="329.2"/></g>
<g fill="#ff1010" stroke="none"><use href="#rm" x="95.8" y="311.1"/>
<use href="#rm" x="95.1" y="312.2"/>
<use href="#rm" x="120.2" y="306.7"/>
<use href="#rm" x="120.8" y="311.8"/>
<use href="#rm" x="128.6" y="311.8"/>
<use href="#rm" x="129.3" y="312.6"/>
<use href="#rm" x="148.2" y="311.8"/>
<use href="#rm" x="148.9" y="311.1"/>
<use href="#rm" x="120.5" y="316.2"/>
<use href="#rm" x="119.1" y="317.6"/>
<use href="#rm" x="122.0" y="318.4"/>
<use href="#rm" x="118.4" y="320.6"/>
<use href="#rm" x="116.9" y="324.2"/>
<use href="#rm" x="118.4" y="324.9"/>
<use href="#rm" x="76.9" y="324.9"/>
<use href="#rm" x="80.5" y="325.6"/>
<use href="#rm" x="78.4" y="328.6"/>
<use href="#rm" x="76.2" y="330.7"/>
<use href="#rm" x="80.5" y="330.0"/>
<use href="#rm" x="81.3" y="333.6"/>
<use href="#rm" x="77.6" y="336.6"/>
<use href="#rm" x="79.1" y="340.2"/>
<use href="#rm" x="78.4" y="341.6"/>
<use href="#rm" x="85.6" y="324.2"/>
<use href="#rm" x="88.5" y="322.7"/>
<use href="#rm" x="90.0" y="332.2"/>
<use href="#rm" x="92.9" y="330.7"/>
<use href="#rm" x="89.3" y="337.3"/>
<use href="#rm" x="91.5" y="335.8"/>
<use href="#rm" x="85.6" y="338.7"/>
<use href="#rm" x="95.8" y="324.9"/>
<use href="#rm" x="97.3" y="324.2"/>
<use href="#rm" x="96.5" y="327.1"/>
<use href="#rm" x="95.8" y="330.7"/>
<use href="#rm" x="98.7" y="329.3"/>
<use href="#rm" x="101.6" y="325.6"/>
<use href="#rm" x="97.3" y="335.1"/>
<use href="#rm" x="95.1" y="337.3"/>
<use href="#rm" x="98.0" y="340.2"/>
<use href="#rm" x="92.9" y="340.9"/>
<use href="#rm" x="100.9" y="339.4"/>
<use href="#rm" x="105.3" y="323.4"/>
<use href="#rm" x="108.2" y="322.7"/>
<use href="#rm" x="109.6" y="326.4"/>
<use href="#rm" x="108.9" y="330.0"/>
<use href="#rm" x="106.7" y="330.7"/>
<use href="#rm" x="111.1" y="330.7"/>
<use href="#rm" x="113.3" y="332.9"/>
<use href="#rm" x="112.5" y="337.3"/>
<use href="#rm" x="106.7" y="340.9"/>
<use href="#rm" x="103.8" y="338.0"/>
<use href="#rm" x="111.1" y="341.6"/>
<use href="#rm" x="116.2" y="328.6"/>
<use href="#rm" x="117.6" y="332.9"/>
<use href="#rm" x="120.5" y="330.7"/>
<use href="#rm" x="123.5" y="325.6"/>
<use href="#rm" x="124.9" y="327.1"/>
<use href="#rm" x="122.7" y="329.3"/>
<use href="#rm" x="124.2" y="332.9"/>
<use href="#rm" x="126.4" y="330.7"/>
<use href="#rm" x="125.6" y="337.3"/>
<use href="#rm" x="127.8" y="333.6"/>
<use href="#rm" x="130.7" y="324.2"/>
<use href="#rm" x="133.6" y="326.4"/>
<use href="#rm" x="131.4" y="329.3"/>
<use href="#rm" x="130.0" y="332.9"/>
<use href="#rm" x="132.9" y="333.6"/>
<use href="#rm" x="130.0" y="338.7"/>
<use href="#rm" x="131.4" y="341.6"/>
<use href="#rm" x="138.0" y="323.4"/>
<use href="#rm" x="141.6" y="322.7"/>
<use href="#rm" x="139.4" y="326.4"/>
<use href="#rm" x="143.1" y="330.7"/>
<use href="#rm" x="142.4" y="333.6"/>
<use href="#rm" x="140.9" y="336.6"/>
<use href="#rm" x="143.1" y="338.7"/>
<use href="#rm" x="146.7" y="331.4"/>
<use href="#rm" x="149.6" y="324.2"/>
<use href="#rm" x="151.1" y="327.1"/>
<use href="#rm" x="150.4" y="330.0"/>
<use href="#rm" x="152.6" y="332.9"/>
<use href="#rm" x="148.2" y="336.6"/>
<use href="#rm" x="151.1" y="340.2"/>
<use href="#rm" x="153.3" y="341.6"/>
<use href="#rm" x="119.1" y="340.9"/>
<use href="#rm" x="123.5" y="341.6"/>
<use href="#rm" x="136.6" y="341.6"/>
<use href="#rm" x="79.8" y="346.6"/>
<use href="#rm" x="84.9" y="348.0"/>
<use href="#rm" x="87.1" y="345.1"/>
<use href="#rm" x="88.5" y="344.4"/>
<use href="#rm" x="91.5" y="345.1"/>
<use href="#rm" x="92.9" y="348.7"/>
<use href="#rm" x="81.3" y="353.8"/>
<use href="#rm" x="82.7" y="356.0"/>
<use href="#rm" x="84.9" y="354.6"/>
<use href="#rm" x="87.1" y="353.1"/>
<use href="#rm" x="88.5" y="357.4"/>
<use href="#rm" x="84.2" y="358.2"/>
<use href="#rm" x="83.5" y="361.8"/>
<use href="#rm" x="83.5" y="366.2"/>
<use href="#rm" x="82.0" y="369.8"/>
<use href="#rm" x="94.4" y="358.9"/>
<use href="#rm" x="90.0" y="350.9"/>
<use href="#rm" x="99.5" y="346.6"/>
<use href="#rm" x="100.9" y="354.6"/>
<use href="#rm" x="102.4" y="356.0"/>
<use href="#rm" x="103.8" y="353.8"/>
<use href="#rm" x="105.3" y="351.6"/>
<use href="#rm" x="106.7" y="349.4"/>
<use href="#rm" x="108.9" y="347.3"/>
<use href="#rm" x="111.1" y="345.8"/>
<use href="#rm" x="107.5" y="344.4"/>
<use href="#rm" x="113.3" y="348.0"/>
<use href="#rm" x="115.5" y="348.7"/>
<use href="#rm" x="114.0" y="358.9"/>
<use href="#rm" x="116.2" y="356.0"/>
<use href="#rm" x="102.4" y="361.8"/>
<use href="#rm" x="103.8" y="366.2"/>
<use href="#rm" x="101.6" y="369.8"/>
<use href="#rm" x="104.5" y="358.2"/>
<use href="#rm" x="108.9" y="352.4"/>
<use href="#rm" x="118.4" y="344.4"/>
<use href="#rm" x="124.2" y="342.9"/>
<use href="#rm" x="123.5" y="350.9"/>
<use href="#rm" x="125.6" y="351.6"/>
<use href="#rm" x="124.9" y="355.3"/>
<use href="#rm" x="127.8" y="358.2"/>
<use href="#rm" x="128.6" y="374.9"/>
<use href="#rm" x="131.4" y="345.1"/>
<use href="#rm" x="132.2" y="347.3"/>
<use href="#rm" x="133.6" y="353.8"/>
<use href="#rm" x="134.4" y="355.3"/>
<use href="#rm" x="135.8" y="356.7"/>
<use href="#rm" x="136.6" y="361.8"/>
<use href="#rm" x="137.3" y="366.2"/>
<use href="#rm" x="135.8" y="369.1"/>
<use href="#rm" x="140.2" y="370.6"/>
<use href="#rm" x="138.0" y="348.7"/>
<use href="#rm" x="140.2" y="350.2"/>
<use href="#rm" x="141.6" y="351.6"/>
<use href="#rm" x="143.8" y="348.0"/>
<use href="#rm" x="146.0" y="350.2"/>
<use href="#rm" x="141.6" y="358.2"/>
<use href="#rm" x="147.4" y="358.9"/>
<use href="#rm" x="143.8" y="344.4"/>
<use href="#rm" x="149.6" y="344.4"/>
<use href="#rm" x="152.6" y="355.3"/>
<use href="#rm" x="170.0" y="317.6"/>
<use href="#rm" x="168.6" y="322.0"/>
<use href="#rm" x="169.3" y="324.9"/>
<use href="#rm" x="158.4" y="324.2"/>
<use href="#rm" x="161.3" y="322.7"/>
<use href="#rm" x="154.7" y="326.4"/>
<use href="#rm" x="156.9" y="338.0"/>
<use href="#rm" x="175.8" y="322.0"/>
<use href="#rm" x="178.0" y="321.3"/>
<use href="#rm" x="175.1" y="324.9"/>
<use href="#rm" x="177.3" y="327.1"/>
<use href="#rm" x="173.6" y="329.3"/>
<use href="#rm" x="171.4" y="331.4"/>
<use href="#rm" x="168.6" y="332.2"/>
<use href="#rm" x="165.6" y="330.7"/>
<use href="#rm" x="162.7" y="332.9"/>
<use href="#rm" x="164.2" y="335.8"/>
<use href="#rm" x="167.1" y="336.6"/>
<use href="#rm" x="170.0" y="334.4"/>
<use href="#rm" x="172.9" y="335.1"/>
<use href="#rm" x="175.8" y="334.4"/>
<use href="#rm" x="178.0" y="332.2"/>
<use href="#rm" x="176.6" y="338.0"/>
<use href="#rm" x="180.2" y="340.2"/>
<use href="#rm" x="183.1" y="340.9"/>
<use href="#rm" x="160.6" y="341.6"/>
<use href="#rm" x="164.9" y="341.6"/>
<use href="#rm" x="168.6" y="340.2"/>
<use href="#rm" x="190.4" y="319.1"/>
<use href="#rm" x="187.4" y="323.4"/>
<use href="#rm" x="186.7" y="325.6"/>
<use href="#rm" x="189.6" y="328.6"/>
<use href="#rm" x="191.1" y="330.0"/>
<use href="#rm" x="188.9" y="332.9"/>
<use href="#rm" x="193.3" y="331.4"/>
<use href="#rm" x="195.4" y="333.6"/>
<use href="#rm" x="196.9" y="336.6"/>
<use href="#rm" x="194.0" y="338.0"/>
<use href="#rm" x="191.8" y="335.8"/>
<use href="#rm" x="186.0" y="337.3"/>
<use href="#rm" x="188.9" y="340.2"/>
<use href="#rm" x="192.6" y="341.6"/>
<use href="#rm" x="197.6" y="340.2"/>
<use href="#rm" x="199.1" y="323.4"/>
<use href="#rm" x="202.0" y="321.3"/>
<use href="#rm" x="202.0" y="324.9"/>
<use href="#rm" x="200.6" y="327.8"/>
<use href="#rm" x="201.3" y="330.0"/>
<use href="#rm" x="199.8" y="332.2"/>
<use href="#rm" x="202.0" y="334.4"/>
<use href="#rm" x="199.1" y="337.3"/>
<use href="#rm" x="203.4" y="340.2"/>
<use href="#rm" x="205.6" y="340.9"/>
<use href="#rm" x="204.9" y="332.9"/>
<use href="#rm" x="214.4" y="319.1"/>
<use href="#rm" x="211.4" y="323.4"/>
<use href="#rm" x="210.7" y="325.6"/>
<use href="#rm" x="213.6" y="327.1"/>
<use href="#rm" x="215.8" y="325.6"/>
<use href="#rm" x="217.3" y="329.3"/>
<use href="#rm" x="215.1" y="330.7"/>
<use href="#rm" x="212.2" y="335.8"/>
<use href="#rm" x="213.6" y="338.0"/>
<use href="#rm" x="210.0" y="339.4"/>
<use href="#rm" x="212.2" y="341.6"/>
<use href="#rm" x="218.0" y="339.4"/>
<use href="#rm" x="220.2" y="336.6"/>
<use href="#rm" x="220.9" y="340.9"/>
<use href="#rm" x="226.0" y="312.6"/>
<use href="#rm" x="226.7" y="316.2"/>
<use href="#rm" x="226.0" y="322.7"/>
<use href="#rm" x="224.6" y="324.9"/>
<use href="#rm" x="227.4" y="327.1"/>
<use href="#rm" x="228.2" y="331.4"/>
<use href="#rm" x="225.3" y="333.6"/>
<use href="#rm" x="223.1" y="336.6"/>
<use href="#rm" x="226.7" y="338.0"/>
<use href="#rm" x="230.4" y="335.1"/>
<use href="#rm" x="232.6" y="332.9"/>
<use href="#rm" x="231.1" y="340.2"/>
<use href="#rm" x="233.3" y="341.6"/>
<use href="#rm" x="159.8" y="344.4"/>
<use href="#rm" x="162.0" y="345.8"/>
<use href="#rm" x="164.2" y="344.4"/>
<use href="#rm" x="158.4" y="348.7"/>
<use href="#rm" x="161.3" y="351.6"/>
<use href="#rm" x="163.4" y="350.9"/>
<use href="#rm" x="165.6" y="348.0"/>
<use href="#rm" x="167.8" y="348.7"/>
<use href="#rm" x="172.9" y="345.8"/>
<use href="#rm" x="174.4" y="348.0"/>
<use href="#rm" x="176.6" y="351.6"/>
<use href="#rm" x="155.4" y="354.6"/>
<use href="#rm" x="156.9" y="356.7"/>
<use href="#rm" x="159.8" y="357.4"/>
<use href="#rm" x="156.2" y="361.8"/>
<use href="#rm" x="156.9" y="366.2"/>
<use href="#rm" x="154.7" y="369.1"/>
<use href="#rm" x="167.1" y="358.9"/>
<use href="#rm" x="171.4" y="358.9"/>
<use href="#rm" x="180.9" y="348.0"/>
<use href="#rm" x="182.4" y="350.2"/>
<use href="#rm" x="184.6" y="351.6"/>
<use href="#rm" x="183.8" y="353.8"/>
<use href="#rm" x="186.7" y="350.2"/>
<use href="#rm" x="190.4" y="351.6"/>
<use href="#rm" x="192.6" y="350.9"/>
<use href="#rm" x="188.9" y="344.4"/>
<use href="#rm" x="193.3" y="344.4"/>
<use href="#rm" x="181.6" y="357.4"/>
<use href="#rm" x="185.3" y="356.7"/>
<use href="#rm" x="180.2" y="361.8"/>
<use href="#rm" x="184.6" y="362.6"/>
<use href="#rm" x="185.3" y="363.3"/>
<use href="#rm" x="180.9" y="367.6"/>
<use href="#rm" x="183.8" y="370.6"/>
<use href="#rm" x="197.6" y="346.6"/>
<use href="#rm" x="199.1" y="350.9"/>
<use href="#rm" x="202.0" y="347.3"/>
<use href="#rm" x="204.2" y="348.7"/>
<use href="#rm" x="205.6" y="350.9"/>
<use href="#rm" x="207.1" y="353.1"/>
<use href="#rm" x="197.6" y="355.3"/>
<use href="#rm" x="196.2" y="358.9"/>
<use href="#rm" x="205.6" y="357.4"/>
<use href="#rm" x="209.3" y="357.4"/>
<use href="#rm" x="204.2" y="361.8"/>
<use href="#rm" x="208.6" y="362.6"/>
<use href="#rm" x="209.3" y="364.0"/>
<use href="#rm" x="205.6" y="368.4"/>
<use href="#rm" x="207.8" y="370.6"/>
<use href="#rm" x="211.4" y="348.7"/>
<use href="#rm" x="214.4" y="350.9"/>
<use href="#rm" x="217.3" y="346.6"/>
<use href="#rm" x="219.4" y="348.0"/>
<use href="#rm" x="220.9" y="350.2"/>
<use href="#rm" x="218.0" y="354.6"/>
<use href="#rm" x="220.9" y="357.4"/>
<use href="#rm" x="219.4" y="366.2"/>
<use href="#rm" x="228.2" y="345.8"/>
<use href="#rm" x="229.6" y="348.0"/>
<use href="#rm" x="231.1" y="344.4"/>
<use href="#rm" x="231.8" y="358.9"/>
<use href="#rm" x="229.6" y="363.3"/>
<use href="#rm" x="235.6" y="313.4"/>
<use href="#rm" x="234.3" y="332.7"/>
<use href="#rm" x="234.3" y="345.2"/>
<use href="#rm" x="232.0" y="337.0"/>
<use href="#rm" x="229.0" y="335.0"/>
<use href="#rm" x="226.5" y="338.0"/>
<use href="#rm" x="231.0" y="340.5"/>
<use href="#rm" x="233.5" y="336.0"/>
<use href="#rm" x="227.5" y="332.5"/>
<use href="#rm" x="224.0" y="340.0"/></g>
<rect x="35.5" y="226.6" width="200.0" height="156.6" fill="none" stroke="#8a8a8a" stroke-width="1"/>
<text transform="translate(32.3,386.90) scale(1,1.0)" text-anchor="end" class="tk">5.8</text>
<text transform="translate(32.3,360.80) scale(1,1.0)" text-anchor="end" class="tk">5.85</text>
<text transform="translate(32.3,334.70) scale(1,1.0)" text-anchor="end" class="tk">5.9</text>
<text transform="translate(32.3,308.60) scale(1,1.0)" text-anchor="end" class="tk">5.95</text>
<text transform="translate(32.3,282.50) scale(1,1.0)" text-anchor="end" class="tk">6</text>
<text transform="translate(32.3,256.40) scale(1,1.0)" text-anchor="end" class="tk">6.05</text>
<text transform="translate(32.3,230.30) scale(1,1.0)" text-anchor="end" class="tk">6.1</text>
<text transform="translate(35.5,393.60) scale(1,1.0)" text-anchor="middle" class="tk">0</text>
<text transform="translate(75.5,393.60) scale(1,1.0)" text-anchor="middle" class="tk">100</text>
<text transform="translate(115.5,393.60) scale(1,1.0)" text-anchor="middle" class="tk">200</text>
<text transform="translate(155.5,393.60) scale(1,1.0)" text-anchor="middle" class="tk">300</text>
<text transform="translate(195.5,393.60) scale(1,1.0)" text-anchor="middle" class="tk">400</text>
<text transform="translate(235.5,393.60) scale(1,1.0)" text-anchor="middle" class="tk">500</text>
<path d="M35.5 383.2h2M235.5 383.2h-2M35.5 357.1h2M235.5 357.1h-2M35.5 331.0h2M235.5 331.0h-2M35.5 304.9h2M235.5 304.9h-2M35.5 278.8h2M235.5 278.8h-2M35.5 252.7h2M235.5 252.7h-2M35.5 226.6h2M235.5 226.6h-2M35.5 383.2v-2M35.5 226.6v2M75.5 383.2v-2M75.5 226.6v2M115.5 383.2v-2M115.5 226.6v2M155.5 383.2v-2M155.5 226.6v2M195.5 383.2v-2M195.5 226.6v2M235.5 383.2v-2M235.5 226.6v2" stroke="#8a8a8a" stroke-width="0.8" fill="none"/>
<text transform="translate(135.5,404.70) scale(1,1.15)" text-anchor="middle" class="lb">Number of samples</text>
<text transform="translate(14.1,305.5) rotate(-90) scale(1,1.15)" text-anchor="middle" class="lb">Oil pressure after filter/bar</text>
<rect x="159.3" y="232.6" width="71.2" height="18.6" fill="#fff" stroke="#8a8a8a" stroke-width="0.9"/>
<use href="#bm" x="170.5" y="237.2" fill="#8080ff" stroke="#2626ff" stroke-width="0.9"/>
<use href="#rm" x="170.5" y="246.5" fill="#ff2020"/>
<text x="180.7" y="240.1" class="lg">Normal samples</text>
<text x="180.7" y="249.1" class="lg">Fault samples</text>
<text x="131.0" y="423.9" text-anchor="middle" class="cap"><tspan class="par" dy="0.4">(</tspan><tspan dy="-0.4">c</tspan><tspan class="par" dy="0.4">)</tspan></text></g>
<g><line x1="342.4" y1="263.6" x2="539.6" y2="263.6" stroke="#f03030" stroke-width="1.3" stroke-dasharray="3.8 3.5"/>
<line x1="342.4" y1="359.3" x2="539.6" y2="359.3" stroke="#f03030" stroke-width="1.3" stroke-dasharray="3.8 3.5"/>
<g fill="none" stroke="#2424ff" stroke-width="1.0"><use href="#bm" x="345.2" y="292.1"/>
<use href="#bm" x="346.6" y="293.0"/>
<use href="#bm" x="350.3" y="289.3"/>
<use href="#bm" x="352.2" y="291.6"/>
<use href="#bm" x="354.0" y="291.2"/>
<use href="#bm" x="355.4" y="293.0"/>
<use href="#bm" x="357.7" y="292.1"/>
<use href="#bm" x="359.6" y="291.2"/>
<use href="#bm" x="361.0" y="291.6"/>
<use href="#bm" x="363.3" y="290.7"/>
<use href="#bm" x="364.7" y="289.3"/>
<use href="#bm" x="363.8" y="292.6"/>
<use href="#bm" x="370.8" y="287.4"/>
<use href="#bm" x="371.7" y="288.8"/>
<use href="#bm" x="369.8" y="291.6"/>
<use href="#bm" x="371.2" y="293.0"/>
<use href="#bm" x="373.1" y="292.1"/>
<use href="#bm" x="374.9" y="293.9"/>
<use href="#bm" x="377.7" y="293.0"/>
<use href="#bm" x="379.1" y="287.9"/>
<use href="#bm" x="378.7" y="291.2"/>
<use href="#bm" x="380.1" y="292.1"/>
<use href="#bm" x="376.4" y="294.9"/>
<use href="#bm" x="378.2" y="294.9"/>
<use href="#bm" x="342.9" y="299.1"/>
<use href="#bm" x="344.3" y="299.5"/>
<use href="#bm" x="345.6" y="300.5"/>
<use href="#bm" x="347.5" y="300.0"/>
<use href="#bm" x="349.4" y="299.1"/>
<use href="#bm" x="350.8" y="300.0"/>
<use href="#bm" x="346.6" y="301.9"/>
<use href="#bm" x="353.1" y="302.3"/>
<use href="#bm" x="354.9" y="301.9"/>
<use href="#bm" x="356.8" y="299.5"/>
<use href="#bm" x="358.2" y="298.6"/>
<use href="#bm" x="360.5" y="300.9"/>
<use href="#bm" x="362.4" y="298.1"/>
<use href="#bm" x="363.8" y="299.5"/>
<use href="#bm" x="365.2" y="300.5"/>
<use href="#bm" x="366.6" y="299.1"/>
<use href="#bm" x="368.0" y="300.0"/>
<use href="#bm" x="368.4" y="301.9"/>
<use href="#bm" x="363.8" y="302.8"/>
<use href="#bm" x="361.5" y="302.8"/>
<use href="#bm" x="372.6" y="300.0"/>
<use href="#bm" x="374.0" y="299.1"/>
<use href="#bm" x="375.9" y="300.0"/>
<use href="#bm" x="377.7" y="300.0"/>
<use href="#bm" x="380.5" y="300.5"/>
<use href="#bm" x="381.0" y="302.8"/>
<use href="#bm" x="373.6" y="302.3"/>
<use href="#bm" x="357.7" y="295.4"/>
<use href="#bm" x="359.6" y="296.3"/>
<use href="#bm" x="342.4" y="305.1"/>
<use href="#bm" x="344.7" y="305.1"/>
<use href="#bm" x="347.1" y="305.1"/>
<use href="#bm" x="348.9" y="305.6"/>
<use href="#bm" x="353.1" y="305.1"/>
<use href="#bm" x="354.9" y="305.6"/>
<use href="#bm" x="356.4" y="304.6"/>
<use href="#bm" x="373.1" y="305.1"/>
<use href="#bm" x="374.9" y="304.6"/>
<use href="#bm" x="376.4" y="305.6"/>
<use href="#bm" x="378.7" y="307.0"/>
<use href="#bm" x="352.2" y="307.0"/>
<use href="#bm" x="344.7" y="309.8"/>
<use href="#bm" x="347.5" y="310.7"/>
<use href="#bm" x="348.9" y="311.6"/>
<use href="#bm" x="354.0" y="309.8"/>
<use href="#bm" x="355.4" y="310.7"/>
<use href="#bm" x="357.3" y="311.6"/>
<use href="#bm" x="359.6" y="311.2"/>
<use href="#bm" x="360.5" y="312.1"/>
<use href="#bm" x="368.9" y="309.8"/>
<use href="#bm" x="370.3" y="310.7"/>
<use href="#bm" x="372.2" y="311.6"/>
<use href="#bm" x="374.0" y="311.6"/>
<use href="#bm" x="375.9" y="311.6"/>
<use href="#bm" x="346.1" y="314.4"/>
<use href="#bm" x="361.9" y="314.9"/>
<use href="#bm" x="354.7" y="293.5"/>
<use href="#bm" x="358.3" y="302.1"/>
<use href="#bm" x="346.7" y="293.9"/>
<use href="#bm" x="352.9" y="301.7"/>
<use href="#bm" x="354.4" y="298.4"/></g>
<g fill="#ff1010" stroke="none"><use href="#rm" x="402.1" y="247.4"/>
<use href="#rm" x="434.8" y="247.4"/>
<use href="#rm" x="453.7" y="247.4"/>
<use href="#rm" x="399.9" y="255.4"/>
<use href="#rm" x="400.6" y="256.9"/>
<use href="#rm" x="419.6" y="255.4"/>
<use href="#rm" x="423.2" y="255.4"/>
<use href="#rm" x="452.3" y="255.4"/>
<use href="#rm" x="453.0" y="256.9"/>
<use href="#rm" x="387.6" y="258.4"/>
<use href="#rm" x="389.7" y="258.4"/>
<use href="#rm" x="407.9" y="258.4"/>
<use href="#rm" x="410.1" y="258.4"/>
<use href="#rm" x="429.7" y="258.4"/>
<use href="#rm" x="432.6" y="256.9"/>
<use href="#rm" x="440.6" y="258.4"/>
<use href="#rm" x="442.8" y="258.4"/>
<use href="#rm" x="459.6" y="258.4"/>
<use href="#rm" x="383.9" y="261.3"/>
<use href="#rm" x="395.6" y="260.6"/>
<use href="#rm" x="399.2" y="263.4"/>
<use href="#rm" x="404.3" y="261.3"/>
<use href="#rm" x="414.4" y="261.3"/>
<use href="#rm" x="420.3" y="261.3"/>
<use href="#rm" x="424.6" y="261.3"/>
<use href="#rm" x="427.6" y="262.0"/>
<use href="#rm" x="437.7" y="261.3"/>
<use href="#rm" x="447.9" y="260.6"/>
<use href="#rm" x="456.6" y="261.3"/>
<use href="#rm" x="386.8" y="267.1"/>
<use href="#rm" x="389.7" y="267.8"/>
<use href="#rm" x="394.8" y="264.9"/>
<use href="#rm" x="398.4" y="265.6"/>
<use href="#rm" x="402.1" y="266.4"/>
<use href="#rm" x="407.9" y="264.9"/>
<use href="#rm" x="410.1" y="267.8"/>
<use href="#rm" x="413.7" y="266.4"/>
<use href="#rm" x="417.4" y="264.2"/>
<use href="#rm" x="421.0" y="267.1"/>
<use href="#rm" x="427.6" y="264.9"/>
<use href="#rm" x="431.2" y="264.2"/>
<use href="#rm" x="436.3" y="266.4"/>
<use href="#rm" x="439.9" y="267.1"/>
<use href="#rm" x="444.3" y="265.6"/>
<use href="#rm" x="446.4" y="264.2"/>
<use href="#rm" x="450.8" y="264.9"/>
<use href="#rm" x="454.4" y="265.6"/>
<use href="#rm" x="459.6" y="267.1"/>
<use href="#rm" x="383.9" y="271.4"/>
<use href="#rm" x="386.1" y="272.9"/>
<use href="#rm" x="389.0" y="271.4"/>
<use href="#rm" x="393.4" y="269.3"/>
<use href="#rm" x="395.6" y="270.7"/>
<use href="#rm" x="397.7" y="272.2"/>
<use href="#rm" x="400.6" y="272.9"/>
<use href="#rm" x="404.3" y="272.2"/>
<use href="#rm" x="407.2" y="270.0"/>
<use href="#rm" x="409.4" y="272.9"/>
<use href="#rm" x="414.4" y="270.7"/>
<use href="#rm" x="418.1" y="272.2"/>
<use href="#rm" x="423.2" y="270.7"/>
<use href="#rm" x="424.6" y="272.9"/>
<use href="#rm" x="427.6" y="273.6"/>
<use href="#rm" x="430.4" y="270.7"/>
<use href="#rm" x="432.6" y="269.3"/>
<use href="#rm" x="435.6" y="272.9"/>
<use href="#rm" x="438.4" y="271.4"/>
<use href="#rm" x="442.1" y="270.7"/>
<use href="#rm" x="445.0" y="269.3"/>
<use href="#rm" x="447.2" y="271.4"/>
<use href="#rm" x="449.4" y="272.9"/>
<use href="#rm" x="453.7" y="270.7"/>
<use href="#rm" x="457.4" y="272.2"/>
<use href="#rm" x="460.3" y="270.0"/>
<use href="#rm" x="382.4" y="277.3"/>
<use href="#rm" x="387.6" y="276.6"/>
<use href="#rm" x="391.2" y="278.0"/>
<use href="#rm" x="394.1" y="276.6"/>
<use href="#rm" x="397.0" y="278.0"/>
<use href="#rm" x="402.8" y="278.0"/>
<use href="#rm" x="406.4" y="276.6"/>
<use href="#rm" x="411.6" y="277.3"/>
<use href="#rm" x="415.9" y="278.0"/>
<use href="#rm" x="418.8" y="275.8"/>
<use href="#rm" x="421.7" y="278.0"/>
<use href="#rm" x="425.4" y="277.3"/>
<use href="#rm" x="431.2" y="276.6"/>
<use href="#rm" x="436.3" y="278.7"/>
<use href="#rm" x="439.2" y="277.3"/>
<use href="#rm" x="442.8" y="276.6"/>
<use href="#rm" x="445.7" y="278.7"/>
<use href="#rm" x="450.8" y="277.3"/>
<use href="#rm" x="455.2" y="276.6"/>
<use href="#rm" x="458.1" y="278.7"/>
<use href="#rm" x="383.9" y="281.6"/>
<use href="#rm" x="389.7" y="281.6"/>
<use href="#rm" x="394.1" y="282.4"/>
<use href="#rm" x="399.9" y="281.6"/>
<use href="#rm" x="405.0" y="281.6"/>
<use href="#rm" x="410.1" y="282.4"/>
<use href="#rm" x="414.4" y="281.6"/>
<use href="#rm" x="419.6" y="281.6"/>
<use href="#rm" x="424.6" y="282.4"/>
<use href="#rm" x="430.4" y="281.6"/>
<use href="#rm" x="434.8" y="282.4"/>
<use href="#rm" x="440.6" y="281.6"/>
<use href="#rm" x="445.0" y="282.4"/>
<use href="#rm" x="449.4" y="281.6"/>
<use href="#rm" x="453.7" y="282.4"/>
<use href="#rm" x="459.6" y="281.6"/>
<use href="#rm" x="392.6" y="286.6"/>
<use href="#rm" x="394.8" y="290.2"/>
<use href="#rm" x="393.4" y="290.9"/>
<use href="#rm" x="386.8" y="290.9"/>
<use href="#rm" x="385.4" y="293.8"/>
<use href="#rm" x="387.6" y="297.4"/>
<use href="#rm" x="383.9" y="301.8"/>
<use href="#rm" x="389.0" y="293.8"/>
<use href="#rm" x="395.6" y="295.3"/>
<use href="#rm" x="397.0" y="300.4"/>
<use href="#rm" x="402.8" y="301.8"/>
<use href="#rm" x="402.1" y="293.1"/>
<use href="#rm" x="405.0" y="292.4"/>
<use href="#rm" x="407.9" y="291.6"/>
<use href="#rm" x="405.7" y="297.4"/>
<use href="#rm" x="404.3" y="298.9"/>
<use href="#rm" x="412.3" y="286.6"/>
<use href="#rm" x="413.0" y="290.2"/>
<use href="#rm" x="415.2" y="290.9"/>
<use href="#rm" x="412.3" y="295.3"/>
<use href="#rm" x="415.9" y="296.0"/>
<use href="#rm" x="417.4" y="300.4"/>
<use href="#rm" x="420.3" y="302.6"/>
<use href="#rm" x="421.7" y="305.4"/>
<use href="#rm" x="423.2" y="285.8"/>
<use href="#rm" x="424.6" y="290.9"/>
<use href="#rm" x="427.6" y="293.8"/>
<use href="#rm" x="429.0" y="290.9"/>
<use href="#rm" x="431.2" y="296.7"/>
<use href="#rm" x="426.8" y="300.4"/>
<use href="#rm" x="425.4" y="301.1"/>
<use href="#rm" x="434.1" y="291.6"/>
<use href="#rm" x="434.8" y="293.8"/>
<use href="#rm" x="437.0" y="296.0"/>
<use href="#rm" x="438.4" y="298.9"/>
<use href="#rm" x="439.9" y="291.6"/>
<use href="#rm" x="439.2" y="297.4"/>
<use href="#rm" x="440.6" y="293.1"/>
<use href="#rm" x="436.3" y="301.8"/>
<use href="#rm" x="432.6" y="301.1"/>
<use href="#rm" x="447.2" y="290.2"/>
<use href="#rm" x="445.0" y="298.2"/>
<use href="#rm" x="447.9" y="297.4"/>
<use href="#rm" x="449.4" y="294.6"/>
<use href="#rm" x="450.8" y="300.4"/>
<use href="#rm" x="454.4" y="291.6"/>
<use href="#rm" x="456.6" y="294.6"/>
<use href="#rm" x="458.1" y="298.2"/>
<use href="#rm" x="455.2" y="301.8"/>
<use href="#rm" x="458.1" y="288.0"/>
<use href="#rm" x="452.3" y="285.1"/>
<use href="#rm" x="455.2" y="284.4"/>
<use href="#rm" x="460.3" y="293.1"/>
<use href="#rm" x="391.9" y="305.4"/>
<use href="#rm" x="410.8" y="305.4"/>
<use href="#rm" x="443.6" y="305.4"/>
<use href="#rm" x="391.2" y="317.1"/>
<use href="#rm" x="410.8" y="317.1"/>
<use href="#rm" x="421.7" y="317.8"/>
<use href="#rm" x="443.6" y="317.1"/>
<use href="#rm" x="527.9" y="244.1"/>
<use href="#rm" x="486.4" y="250.4"/>
<use href="#rm" x="510.4" y="250.4"/>
<use href="#rm" x="482.8" y="254.0"/>
<use href="#rm" x="482.8" y="256.2"/>
<use href="#rm" x="506.8" y="253.3"/>
<use href="#rm" x="506.8" y="256.2"/>
<use href="#rm" x="471.2" y="255.4"/>
<use href="#rm" x="472.6" y="256.2"/>
<use href="#rm" x="474.8" y="256.9"/>
<use href="#rm" x="476.3" y="258.4"/>
<use href="#rm" x="462.4" y="258.4"/>
<use href="#rm" x="495.2" y="258.4"/>
<use href="#rm" x="496.6" y="258.4"/>
<use href="#rm" x="501.0" y="258.4"/>
<use href="#rm" x="519.9" y="258.4"/>
<use href="#rm" x="522.1" y="258.4"/>
<use href="#rm" x="524.3" y="258.4"/>
<use href="#rm" x="527.2" y="259.8"/>
<use href="#rm" x="527.9" y="261.3"/>
<use href="#rm" x="536.6" y="258.4"/>
<use href="#rm" x="466.8" y="260.6"/>
<use href="#rm" x="467.6" y="262.0"/>
<use href="#rm" x="469.7" y="264.2"/>
<use href="#rm" x="465.4" y="265.6"/>
<use href="#rm" x="475.6" y="263.4"/>
<use href="#rm" x="481.4" y="264.9"/>
<use href="#rm" x="485.0" y="264.2"/>
<use href="#rm" x="489.4" y="264.2"/>
<use href="#rm" x="492.3" y="264.9"/>
<use href="#rm" x="494.4" y="262.0"/>
<use href="#rm" x="495.9" y="264.2"/>
<use href="#rm" x="503.2" y="264.2"/>
<use href="#rm" x="509.0" y="265.6"/>
<use href="#rm" x="511.9" y="264.2"/>
<use href="#rm" x="514.8" y="263.4"/>
<use href="#rm" x="517.0" y="261.3"/>
<use href="#rm" x="518.5" y="263.4"/>
<use href="#rm" x="525.0" y="262.7"/>
<use href="#rm" x="529.4" y="264.2"/>
<use href="#rm" x="533.7" y="264.2"/>
<use href="#rm" x="462.4" y="268.6"/>
<use href="#rm" x="466.8" y="270.0"/>
<use href="#rm" x="469.7" y="269.3"/>
<use href="#rm" x="473.4" y="268.6"/>
<use href="#rm" x="477.0" y="269.3"/>
<use href="#rm" x="479.2" y="267.1"/>
<use href="#rm" x="485.0" y="268.6"/>
<use href="#rm" x="488.6" y="270.0"/>
<use href="#rm" x="492.3" y="269.3"/>
<use href="#rm" x="500.3" y="270.0"/>
<use href="#rm" x="503.9" y="269.3"/>
<use href="#rm" x="507.6" y="268.6"/>
<use href="#rm" x="511.2" y="267.8"/>
<use href="#rm" x="517.0" y="268.6"/>
<use href="#rm" x="523.5" y="267.8"/>
<use href="#rm" x="530.8" y="267.8"/>
<use href="#rm" x="535.2" y="269.3"/>
<use href="#rm" x="538.1" y="270.7"/>
<use href="#rm" x="463.2" y="272.9"/>
<use href="#rm" x="468.3" y="272.2"/>
<use href="#rm" x="471.9" y="272.9"/>
<use href="#rm" x="478.4" y="272.2"/>
<use href="#rm" x="481.4" y="272.9"/>
<use href="#rm" x="485.0" y="273.6"/>
<use href="#rm" x="487.9" y="273.6"/>
<use href="#rm" x="490.8" y="274.4"/>
<use href="#rm" x="494.4" y="272.9"/>
<use href="#rm" x="503.9" y="272.9"/>
<use href="#rm" x="508.3" y="273.6"/>
<use href="#rm" x="511.9" y="272.9"/>
<use href="#rm" x="516.3" y="272.9"/>
<use href="#rm" x="519.2" y="272.9"/>
<use href="#rm" x="522.8" y="272.9"/>
<use href="#rm" x="525.7" y="272.9"/>
<use href="#rm" x="529.4" y="273.6"/>
<use href="#rm" x="533.0" y="272.2"/>
<use href="#rm" x="536.6" y="274.4"/>
<use href="#rm" x="463.2" y="277.3"/>
<use href="#rm" x="467.6" y="278.0"/>
<use href="#rm" x="477.0" y="278.0"/>
<use href="#rm" x="482.8" y="278.0"/>
<use href="#rm" x="491.6" y="277.3"/>
<use href="#rm" x="500.3" y="278.0"/>
<use href="#rm" x="506.1" y="278.0"/>
<use href="#rm" x="511.2" y="276.6"/>
<use href="#rm" x="517.0" y="277.3"/>
<use href="#rm" x="525.0" y="276.6"/>
<use href="#rm" x="530.1" y="278.0"/>
<use href="#rm" x="536.6" y="277.3"/>
<use href="#rm" x="471.9" y="281.6"/>
<use href="#rm" x="489.4" y="281.6"/>
<use href="#rm" x="500.3" y="281.6"/>
<use href="#rm" x="513.4" y="280.9"/>
<use href="#rm" x="520.6" y="282.4"/>
<use href="#rm" x="527.9" y="280.9"/>
<use href="#rm" x="533.0" y="281.6"/>
<use href="#rm" x="470.4" y="285.1"/>
<use href="#rm" x="482.1" y="284.4"/>
<use href="#rm" x="463.9" y="286.6"/>
<use href="#rm" x="465.4" y="289.4"/>
<use href="#rm" x="466.8" y="290.2"/>
<use href="#rm" x="461.7" y="292.4"/>
<use href="#rm" x="464.6" y="294.6"/>
<use href="#rm" x="466.8" y="296.7"/>
<use href="#rm" x="469.0" y="300.4"/>
<use href="#rm" x="472.6" y="302.6"/>
<use href="#rm" x="474.8" y="301.8"/>
<use href="#rm" x="477.0" y="300.4"/>
<use href="#rm" x="479.2" y="298.2"/>
<use href="#rm" x="475.6" y="290.2"/>
<use href="#rm" x="477.7" y="290.9"/>
<use href="#rm" x="479.2" y="292.4"/>
<use href="#rm" x="474.8" y="293.8"/>
<use href="#rm" x="484.3" y="290.9"/>
<use href="#rm" x="486.4" y="294.6"/>
<use href="#rm" x="488.6" y="293.8"/>
<use href="#rm" x="490.8" y="294.6"/>
<use href="#rm" x="492.3" y="292.4"/>
<use href="#rm" x="494.4" y="288.7"/>
<use href="#rm" x="497.4" y="289.4"/>
<use href="#rm" x="499.6" y="290.9"/>
<use href="#rm" x="486.4" y="299.6"/>
<use href="#rm" x="487.9" y="298.9"/>
<use href="#rm" x="490.1" y="298.2"/>
<use href="#rm" x="492.3" y="297.4"/>
<use href="#rm" x="496.6" y="295.3"/>
<use href="#rm" x="498.8" y="298.2"/>
<use href="#rm" x="497.4" y="301.1"/>
<use href="#rm" x="499.6" y="300.4"/>
<use href="#rm" x="501.7" y="298.9"/>
<use href="#rm" x="503.9" y="297.4"/>
<use href="#rm" x="506.1" y="285.8"/>
<use href="#rm" x="507.6" y="290.9"/>
<use href="#rm" x="510.4" y="294.6"/>
<use href="#rm" x="512.6" y="294.6"/>
<use href="#rm" x="515.5" y="293.1"/>
<use href="#rm" x="517.7" y="288.7"/>
<use href="#rm" x="520.6" y="288.7"/>
<use href="#rm" x="522.1" y="291.6"/>
<use href="#rm" x="524.3" y="293.8"/>
<use href="#rm" x="511.2" y="299.6"/>
<use href="#rm" x="512.6" y="298.2"/>
<use href="#rm" x="514.8" y="297.4"/>
<use href="#rm" x="516.3" y="297.4"/>
<use href="#rm" x="520.6" y="297.4"/>
<use href="#rm" x="525.0" y="301.1"/>
<use href="#rm" x="527.2" y="290.2"/>
<use href="#rm" x="529.4" y="297.4"/>
<use href="#rm" x="532.3" y="288.0"/>
<use href="#rm" x="533.7" y="290.9"/>
<use href="#rm" x="533.0" y="295.3"/>
<use href="#rm" x="536.6" y="290.2"/>
<use href="#rm" x="537.4" y="296.7"/>
<use href="#rm" x="535.2" y="300.4"/>
<use href="#rm" x="522.1" y="282.9"/>
<use href="#rm" x="463.2" y="305.4"/>
<use href="#rm" x="495.2" y="305.4"/>
<use href="#rm" x="519.2" y="305.4"/>
<use href="#rm" x="462.4" y="316.4"/>
<use href="#rm" x="463.2" y="317.8"/>
<use href="#rm" x="502.4" y="316.4"/>
<use href="#rm" x="503.2" y="317.8"/>
<use href="#rm" x="524.3" y="316.4"/>
<use href="#rm" x="495.8" y="326.8"/>
<use href="#rm" x="519.1" y="326.8"/>
<use href="#rm" x="530.7" y="326.8"/></g>
<rect x="342.4" y="228.1" width="197.2" height="154.2" fill="none" stroke="#8a8a8a" stroke-width="1"/>
<text transform="translate(339.2,386.00) scale(1,1.0)" text-anchor="end" class="tk">88.8</text>
<text transform="translate(339.2,360.30) scale(1,1.0)" text-anchor="end" class="tk">88.9</text>
<text transform="translate(339.2,334.60) scale(1,1.0)" text-anchor="end" class="tk">89</text>
<text transform="translate(339.2,308.90) scale(1,1.0)" text-anchor="end" class="tk">89.1</text>
<text transform="translate(339.2,283.20) scale(1,1.0)" text-anchor="end" class="tk">89.2</text>
<text transform="translate(339.2,257.50) scale(1,1.0)" text-anchor="end" class="tk">89.3</text>
<text transform="translate(339.2,231.80) scale(1,1.0)" text-anchor="end" class="tk">89.4</text>
<text transform="translate(342.4,392.70) scale(1,1.0)" text-anchor="middle" class="tk">0</text>
<text transform="translate(381.8,392.70) scale(1,1.0)" text-anchor="middle" class="tk">100</text>
<text transform="translate(421.3,392.70) scale(1,1.0)" text-anchor="middle" class="tk">200</text>
<text transform="translate(460.7,392.70) scale(1,1.0)" text-anchor="middle" class="tk">300</text>
<text transform="translate(500.2,392.70) scale(1,1.0)" text-anchor="middle" class="tk">400</text>
<text transform="translate(539.6,392.70) scale(1,1.0)" text-anchor="middle" class="tk">500</text>
<path d="M342.4 382.3h2M539.6 382.3h-2M342.4 356.6h2M539.6 356.6h-2M342.4 330.9h2M539.6 330.9h-2M342.4 305.2h2M539.6 305.2h-2M342.4 279.5h2M539.6 279.5h-2M342.4 253.8h2M539.6 253.8h-2M342.4 228.1h2M539.6 228.1h-2M342.4 382.3v-2M342.4 228.1v2M381.8 382.3v-2M381.8 228.1v2M421.3 382.3v-2M421.3 228.1v2M460.7 382.3v-2M460.7 228.1v2M500.2 382.3v-2M500.2 228.1v2M539.6 382.3v-2M539.6 228.1v2" stroke="#8a8a8a" stroke-width="0.8" fill="none"/>
<text transform="translate(441.0,403.90) scale(1,1.15)" text-anchor="middle" class="lb">Number of samples</text>
<text transform="translate(321.0,305.8) rotate(-90) scale(1,1.15)" text-anchor="middle" class="lb">Oil temperature after filter/℃</text>
<rect x="467.0" y="361.7" width="70.6" height="18.6" fill="#fff" stroke="#8a8a8a" stroke-width="0.9"/>
<use href="#bm" x="478.2" y="366.3" fill="#8080ff" stroke="#2626ff" stroke-width="0.9"/>
<use href="#rm" x="478.2" y="375.6" fill="#ff2020"/>
<text x="488.2" y="369.2" class="lg">Normal samples</text>
<text x="488.2" y="378.2" class="lg">Fault samples</text>
<text x="436.5" y="423.9" text-anchor="middle" class="cap"><tspan class="par" dy="0.4">(</tspan><tspan dy="-0.4">d</tspan><tspan class="par" dy="0.4">)</tspan></text></g>
</svg>
</body></html>
